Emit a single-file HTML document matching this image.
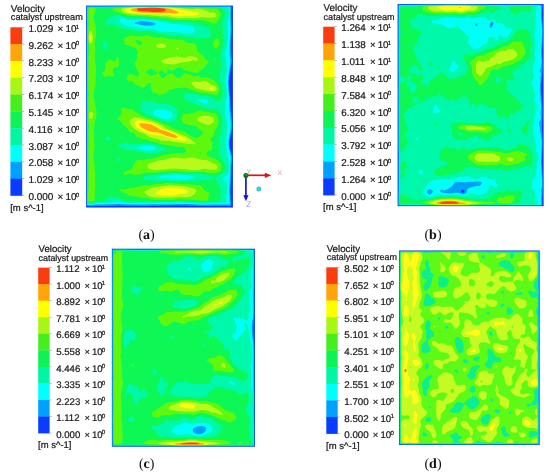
<!DOCTYPE html>
<html><head><meta charset="utf-8"><title>Velocity contours</title>
<style>
html,body{margin:0;padding:0;background:#fff;}
svg{display:block;text-rendering:geometricPrecision}
.t{font-family:"Liberation Sans",Arial,sans-serif;fill:#1a1a1a;stroke:#1a1a1a;stroke-width:0.22px}
.t2{font-family:"Liberation Sans",Arial,sans-serif}
.c{font-family:"Liberation Serif","Times New Roman",serif;font-size:14px;fill:#111}
</style></head><body>
<svg width="550" height="474" viewBox="0 0 550 474">
<defs><filter id="soft" x="-5%" y="-5%" width="110%" height="110%"><feGaussianBlur stdDeviation="0.45"/></filter></defs>
<rect width="550" height="474" fill="#fff"/>
<g transform="translate(86.20,5.70)"><g filter="url(#soft)"><rect x="0" y="0" width="146.70" height="201.70" fill="#0a32fa"/>
<path fill="#00a0fa" fill-rule="evenodd" d="M0.5 0.5 66.1 0.2 145.4 0.5 145.1 4.5 145 10 145.6 24 144.7 35.5 144.6 40.5 144.9 46.5 145.6 53.1 145.7 55.6 145.3 58.6 143.1 70.1 142.6 77.1 142.8 82.1 144 93.6 144.6 104.6 146.1 118.1 145.8 122.6 143.5 134.1 143.1 137.6 143.4 141.6 145.5 149.1 145.9 152.2 145.8 154.7 145.1 162.2 144.9 173.7 144.2 183.7 144.2 187.7 145 199.7 144.8 200.2 123.7 200.2 116.7 200.4 90.1 199.9 58.6 200.4 32.5 200.1 18.5 200.3 11 200.2 4 200.6 0.5 200.4 0.4 196.7 0.5 0.5Z"/>
<path fill="#00fff5" fill-rule="evenodd" d="M48.6 0.5 73.1 0.4 104.6 0.8 143.7 0.9 144.2 1 144 13 144.4 24.5 143.6 36.5 143.4 42.5 143.4 48.5 144.1 53.6 144.2 56.6 142.2 70.6 141.8 77.1 142 81.6 143 92.6 143.3 104.6 144.7 118.6 144.4 123.1 142.5 134.6 142.2 137.6 142.6 141.6 144.4 149.6 144.7 152.7 144.1 162.7 143.2 184.7 143.7 198.7 124.2 198.7 116.2 199 102.1 198.4 91.6 198.2 84.1 198.5 66.1 198.6 58.1 198.9 52.6 198.7 45.1 198.8 38.1 198.5 31.5 198.4 18 198.9 11 198.7 4 199.4 1 199.2 0.7 198.2 0.7 196.7 0.9 177.7 0.9 120.6 0.7 109.6 0.9 1 4.5 0.8 25 0.8 48.6 0.5ZM53.6 15.5 48.5 17 48.4 17.5 49.5 18 57.6 19.7 61.1 20.1 66.1 19.9 67.6 19.5 68.6 19 69.2 18.5 69.3 18 68.9 17.5 67.8 17 61.6 15.8 55.6 15.3 53.6 15.5Z"/>
<path fill="#00f8aa" fill-rule="evenodd" d="M39.3 1 52.6 0.7 68.6 0.6 104.1 1.3 139.2 1.3 141.5 1.5 142.8 5 143.1 6.5 143.1 8.5 142.7 12 141.4 15.5 141.1 17 141.2 20.5 141.7 28.5 141.6 33 140.3 41.5 139.8 43.5 138.7 46 138.4 47.5 138.6 49 139.5 52.1 139.8 54.1 140.4 61.1 141 64.6 140.8 66.1 139.7 70.1 139 74.1 139.1 76.6 140.2 81.8 140.8 86.1 140.9 88.6 140.5 92.1 139.3 95.6 139.2 98.6 138.8 102.6 139.2 109.1 140.6 116.1 140.8 118.1 140.8 126.6 139.6 135.1 139.5 138.1 140.5 144.6 140.9 149.6 142.5 155.7 143.1 160.7 142.5 166.2 142 167.7 140.7 169.2 137.7 171.2 137.2 171.7 136.8 172.7 136.8 173.2 137.4 174.2 139.7 176.2 140.4 177.2 140.7 178.2 141.3 181.2 141.3 182.7 139.9 193.7 139.9 195.2 140.1 196.7 139.7 197.1 124.7 197.2 116.7 197.7 105.6 197 92.6 196.6 84.1 197.1 79.6 196.9 65.1 197 58.1 197.4 52.1 197 44.1 197.2 38.1 196.6 31 196.2 17.5 197.3 11 197 7 198 4 198.3 1.5 198.1 1.2 197.7 1.2 127.6 1.4 120.6 1.1 109.6 1.3 89.6 1.2 68.6 1.4 40.5 1.2 30 1.4 1.5 1.5 1.4 4.5 1.2 18.5 1.3 39.3 1ZM111.2 93.6 110.7 93.6 110.4 94.1 111 94.6 113.2 95.4 116.1 97.1 117.7 97.7 119.2 97.9 120.2 97.8 121.2 97.4 121.7 96.6 121.7 95.6 121.3 94.6 120.7 93.9 119.7 93.4 118.7 93.3 113.7 94 111.2 93.6ZM34.5 12.4 33.6 13 33.2 14 33.3 15 34.3 16.5 36 18 38.3 19.5 40.1 20.3 42.1 20.7 44.6 21.1 49.1 21.3 53.6 22.2 66.1 23.3 68.6 23.8 72.6 25.3 75.6 25.8 78.6 26 83.6 26 87.6 26.5 93.6 26.7 98.6 27.7 104.1 27.8 105.6 27.5 107.7 26.5 108.2 26 108.6 25 108.5 24 108.1 23 106.7 21 105.2 20 103.6 19.6 97.4 19 94.1 18.9 90.1 18.3 84.6 18.3 80.6 16.8 75.6 16.2 70.1 14.9 55.1 13.7 49.6 14.3 43.1 14 41.1 13.7 37.1 12.4 35.5 12.3 34.5 12.4ZM57.6 140.1 52.4 141.1 51.5 141.6 51.7 142.1 52.8 142.6 55.6 143.7 57.6 144.3 62.1 145 65.1 144.9 68.3 144.1 69.2 143.6 69.7 143.1 69.8 142.6 69.7 142.1 68.5 141.1 67.1 140.4 65.6 139.9 61.6 139.7 57.6 140.1ZM72.6 104.1 68.6 104.9 67.6 105.3 67.1 105.7 66.7 107.1 66.9 108.1 67.6 109 68.4 109.6 73.1 111.3 76.6 113 79.1 113.5 81.6 113.5 83.6 113 85.1 112.1 85.9 111.1 86.3 109.6 86.3 108.1 85.6 106.7 84.8 106.1 78.1 104 76.1 103.8 72.6 104.1ZM84.6 169.1 80.6 169.9 76.6 169.9 74.8 170.2 73.8 170.7 73.3 171.2 73.1 171.7 73.5 172.2 75.1 172.7 76.6 172.7 80.1 172.1 85.1 173.3 93.1 173.5 98.6 174 100.6 173.7 106.3 172.2 107.9 171.7 108.1 171.2 104.1 170.1 96.6 169 90.1 168.8 84.6 169.1Z"/>
<path fill="#0af855" fill-rule="evenodd" d="M50.2 1 72.6 0.9 104.1 1.7 111.2 1.6 122.7 1.8 133.2 1.8 135.6 2 137.5 4.5 138.7 6.5 139 8 138.8 9.5 136.5 14.5 135.6 17.5 135.7 19 136.6 22.5 136.5 27 137.3 31.5 137.3 33 136.7 39.5 136.2 42 134.8 46 134.4 49.5 134.3 54.1 135 58.6 135.1 61.6 134.8 63.1 133.5 65.6 133.1 67.1 133.6 71.1 133.5 74.1 133.7 75.6 135.4 80.6 136.7 86.1 136.6 88.6 135.4 92.1 134.3 93.6 133.2 94.6 131.7 95.2 130.2 95.3 129.7 95.2 128.2 93.9 126.7 92.9 121.7 90.4 120.2 90.1 115.7 90.2 111.2 89 107.6 87.8 104.1 87.6 101.6 87.3 100.1 87.5 98.3 88.6 97.3 89.6 97.1 90.6 97.3 91.6 98.1 93 99.1 93.9 100.6 94.8 105 97.1 109.6 98.4 119.2 102.5 121.2 103 123.7 103.2 127.7 103 129.7 102.5 131.7 104.1 133.3 106.1 134.1 107.6 134.9 110.1 135.9 112.6 136.3 115.1 136.1 118.6 135 123.6 134.6 127.6 133.2 132.1 132.9 134.1 132.8 139.6 133.1 143.1 132.6 146.1 132.6 147.6 133 149.6 133.7 151.1 137.2 155.7 138.1 157.2 138.8 159.2 138.9 161.2 138.6 164.2 138.2 165.2 137.6 166.2 136.2 167.4 133.2 169.1 131.7 170.2 130.1 171.7 129.5 172.7 129.5 173.2 130.2 174.7 133.6 180.7 134.2 182.5 134.7 188.7 134.4 189.7 133.3 192.7 133.1 193.7 133.3 195.2 133.2 195.3 132.2 195.6 124.7 195.8 117.2 196.4 106.6 195.7 94.6 195.3 90.6 195.4 84.1 195.8 79.6 195.6 69.1 195.7 63.6 195.4 57.1 195.6 50.1 195.3 44.1 195.4 36.1 194.7 34.2 193.2 32 192.3 26 191.3 24 191.1 21.5 191.5 20.4 192.2 20 193 20.2 193.7 20.6 194.2 21.4 194.7 16.5 195.4 11 195.3 7.5 196.6 4.5 197.1 2.5 197.1 1.5 196.8 1.7 178.7 1.6 127.6 1.8 121.1 1.5 109.6 1.8 89.1 1.6 68.6 1.8 43.5 1.6 30.5 1.8 2 2 1.8 4.5 1.6 11 1.8 25 1.8 50.2 1ZM17.5 36 17 36.5 16.5 37.5 16.3 38.5 16.4 40 16.9 41.5 17.6 42.5 18.5 43.5 19.5 43.8 20.5 43.2 21.1 42 21.2 40 21 38 20.5 36.9 19.5 35.9 18.5 35.6 17.5 36ZM30.5 9.5 24 11.4 22.2 12.5 20.7 14 19.9 15.5 19.7 17 20.1 18.5 20.5 19.2 21.5 19.5 25 18.8 26.5 18.9 28 19.4 33.3 22 38.6 23.3 42.6 23.8 52.1 25.6 59.6 25.5 64.6 25.7 75.6 28.2 88.1 29.6 93.1 29.6 97.6 30.9 101.6 31 105.6 31.8 112.7 32.7 114.7 32.7 122.3 32 123.2 31.7 124.1 31 124.8 29.5 124.9 28.5 124.6 27 122.6 23 121.7 21.8 120.7 21.3 117.2 20.3 113.2 18.7 106.1 17.1 100.6 16.3 93.1 16.2 86.1 15.7 81.1 14.5 75.6 14.1 70.6 13.2 66.6 13.1 55.1 12.1 50.1 12.5 47.6 12.4 42.1 11.7 35 9.7 33 9.5 30.5 9.5ZM21.5 131.5 20 132.3 19.5 132.9 19.4 133.6 19.5 134.1 20 134.8 21 135.2 22 135.2 23.5 134.6 24 134 24.2 133.1 23.8 132.1 23.1 131.6 22.5 131.5 21.5 131.5ZM31.5 152.2 31 153.2 31 153.7 31.5 154.7 32 155.2 33 155.6 34.2 155.2 34.6 154.7 34.6 154.2 34 153.2 32.5 151.9 32 151.9 31.5 152.2ZM39.1 137.1 35 137.7 33.5 138.4 32.7 139.6 32.5 140.6 33 141.6 33.5 142 39.1 144 52.1 145.5 59.1 147.8 67.6 147.9 69.1 147.7 75.6 145.4 78.1 144.6 79.1 144.1 79.2 143.6 79 143.1 78.2 142.6 76.1 141.9 72.6 140.1 69.1 138.9 66.1 138.2 60.6 137.6 55.6 138.3 51.6 138.1 47.6 138.6 44.7 138.1 40.6 137.1 39.1 137.1ZM57.1 94.6 56.5 95.1 56.1 95.9 55.2 98.6 54.2 101.1 54 102.1 54.7 103.6 57 106.6 57.9 107.6 59.1 108.4 67.1 112.1 72.1 113.4 76.1 115.2 80.1 116.4 83.1 116.6 85.6 116.4 89.1 115.1 90.2 114.1 90.9 112.6 91.1 111.1 91.3 108.1 91.1 105.1 90.8 104.1 90.1 102.9 88.8 101.6 87.4 100.6 85.6 99.8 80.6 98.3 72.6 97.7 68.6 96.8 65.6 95.9 64.1 95.8 61.6 96.6 60.6 96.7 60.1 96.5 59.1 95.1 58.6 94.7 57.6 94.5 57.1 94.6ZM89.6 167.2 83.1 167.4 75.1 168 65.6 169.6 61.1 169.5 59.6 169.7 58.4 170.2 57.4 171.2 56.8 172.7 57.1 173.5 58.1 174.2 62.1 174.9 63.6 175 66.6 174.7 70.6 175.4 74.1 175.6 80.1 174.8 89.1 175.7 93.6 175.7 99.1 176.3 103.1 175.5 107.6 175.6 116.7 174.3 121.2 174.4 123.2 174.2 126 173.7 128.6 172.7 128.3 172.2 127.2 171.2 125.3 170.2 115.2 168.3 106.6 168.1 96.1 167.3 89.6 167.2Z"/>
<path fill="#5ff810" fill-rule="evenodd" d="M43.2 1.5 53.6 1.2 73.1 1.2 104.6 2.2 109.1 2 114.7 2 123.2 2.8 129.7 2.8 130.7 3 132.2 4.1 133.2 5.2 134.2 7 134.5 9 133.9 11 132.2 14.2 129.7 17.9 127.7 17.9 126.7 17.7 124.2 16.5 120.2 15.8 116.9 14.5 115.7 14.2 109.1 14.7 101.1 14.2 91.6 14.4 85.6 13.6 81.1 12.5 75.1 12.3 71.1 11.6 66.6 11.5 62.1 10.9 54.1 10.4 47.6 10.4 42.1 9.8 35.8 8 29 5.6 27.3 4.5 25.9 3 29 2.4 43.2 1.5ZM2.5 2.5 4 2.2 6.5 2.1 8.5 2.5 9.7 3 9.6 4.5 7.6 10.5 7.4 12 7.6 13.5 8.8 17 9.3 19.5 9.7 23 9.8 26.5 10.1 29.5 9.2 33 8.6 39.5 9.1 44 8.7 48.5 8.6 51.6 10 65.1 9.4 71.6 9.2 79.6 7.7 87.1 7.5 88.6 8.4 97.1 10.6 106.6 9.6 113.1 8 118.6 8 122.1 7.5 125.6 8.1 130.1 8 133.6 8.5 139.1 8.1 145.1 7.2 148.6 7.2 149.6 8.6 159.7 8.5 163.7 9.2 168.7 8.9 173.7 9.1 180.7 8.4 190.2 8.6 194.7 6.5 195.5 3 195.9 2 195.8 1.9 195.2 2 185.7 2.4 179.2 2.2 171.2 2.3 163.7 2.2 159.2 2.4 149.1 2.2 142.6 2.5 134.6 2.2 127.6 2.9 121.1 2 114 1.9 110.1 2.3 101.6 2.2 95.1 2.5 89.1 2.2 84.1 2 69.1 2.3 59.1 2.2 51.6 2.8 44.5 2.7 40 2 34.5 1.9 31.5 2.5 15.5 2.2 6.5 2.5 2.5ZM58.9 29.5 60.6 29.5 62.1 29.8 63.1 30.1 65.6 31.5 67.1 31.9 75.1 31.8 80.6 32.7 83.6 33.6 86.6 33.6 90.1 34 93.1 33.9 94.6 34 98.1 35 101.1 37 102.1 37.5 103.1 37.6 106.6 37.3 107.6 37.6 108.6 38.1 109.6 39.3 110.4 41 110.8 42.5 110.9 44.5 111.3 45.5 112.3 46.5 116.5 49.5 117.3 50.6 118.7 53.4 119.2 53.9 121.5 55.1 122.1 56.1 122.1 56.6 121.8 57.1 119.7 58.9 118.6 61.6 117.7 62.9 116.7 63.5 114.1 64.6 111.7 66.9 110.7 67.3 109.6 67.3 106.6 66.5 104.1 66.3 101.1 65.1 98.6 64.9 97.6 64.3 95.6 62.3 94.1 61.7 92.6 62 89.6 62.9 88.4 63.6 86.6 65 85.6 65.3 84.6 64.9 83.1 63.9 82.1 63.7 81.6 64 81.1 64.6 80.2 67.6 80.1 67.8 79.6 68 79.1 67.8 76.6 65.2 75.1 64.8 74.2 65.1 73.6 65.6 72.2 67.1 72.3 67.6 73.1 68.5 74.6 71.4 75.1 72 76.1 72.6 76.6 72.6 77.6 72.2 80.1 69.6 80.6 69.3 82.1 69.1 84.6 67.7 85.6 67.5 86.1 67.7 87.1 68.5 90.1 71.7 91.1 72 93.1 71.7 94.6 71.2 95.6 70.3 97.1 68.5 98.1 67.8 98.6 67.7 101.6 68.3 103.6 68.2 104.1 68.5 105.7 70.1 107.1 70.8 108.6 70.7 110.7 70 111.7 69.9 115.2 71.8 116.7 71.8 119.7 71.4 121.2 71.6 124.2 73.3 126.7 74.2 127.7 74.7 129.7 76.5 131.4 79.1 132.6 81.6 132.9 83.6 132.5 86.1 131.5 88.1 130.7 88.9 129.7 89.4 127.7 88.7 125.2 88.1 117.2 87.3 112.2 86.2 105.6 84.3 104.1 83.8 100.6 82 98.1 81.7 96.1 81.9 92.6 82.6 89.6 82.4 87.6 83.3 83.6 84.3 82.6 84.9 79.6 87.5 78.1 88.4 76.1 88.8 73.1 89.1 71.7 88.6 69.6 87.4 67.1 86.8 66.1 86 65.2 84.1 64.7 82.1 64.7 80.6 65.1 78.6 65 78.1 64.6 77.8 63.6 77.5 62.6 77.6 61.6 78.2 60.1 80.1 58.7 81.1 57.1 81.7 55.6 81.8 54.6 81.3 52.6 79.8 50.1 79.4 49.3 79.1 47.1 76.6 46.1 75.9 45.1 75.6 42.6 75.7 41.6 75.3 40.6 74.1 40.4 73.1 40.4 72.1 40.7 71.1 41.2 70.1 42.6 68.9 44.1 68.4 45.6 68.5 46.6 68.9 49.1 70.5 50.1 70.8 51.6 70.5 52.2 70.1 52.6 69.5 52.8 68.6 52.5 67.1 50.5 63.1 49.7 60.6 48.9 59.1 48.7 58.1 49.1 56.3 50.6 54.1 51 53.1 51 52.1 50.5 50.6 50.4 49.5 51.5 47.5 51.8 46 51.5 45 50.8 44 48.6 41.8 46 41.5 45.1 41.1 43.1 39.8 40.1 39.4 39.1 39 38.6 38.4 38.2 37 38.1 34 38.3 32.5 39.1 31.8 41.1 31.4 43.6 30.2 44.6 29.8 46.1 29.8 50.1 30.6 54.6 30.9 56.1 30.6 58.9 29.5ZM63.6 63.5 62.4 64.1 61 65.1 60.3 66.1 60.5 67.1 61.1 68.1 63.6 69.5 65.1 70 66.6 69.9 70.2 68.1 71.1 67.6 71.4 67.1 66.1 63.7 64.6 63.4 63.6 63.5ZM50.1 34.5 49.4 35 49.2 35.5 49.6 36.5 50.1 37.1 53.6 39.4 54.6 39.6 55.1 39.1 55.9 37 55.6 36 55.2 35.5 54.1 35 51.9 34.5 50.1 34.5ZM129.4 33.5 129.7 33.2 130.7 33.2 131.7 33.5 132.2 33.8 132.9 35 133.2 36.5 133.1 38 132.7 39.7 132.2 40.7 130.5 42.5 129.7 44 127.4 39.5 126.9 38 127 37 127.5 36 129.4 33.5ZM25 50 25 50.2 25 50ZM31.3 51.6 31.5 51.3 32 51.3 32.6 52.1 32.7 53.1 32.4 55.6 32.9 58.1 33 59.1 32.5 60.1 31.5 61.1 30.5 61.5 29 61.7 28 62.1 27 63.4 26.7 64.6 26.6 65.6 26.9 66.6 27.9 69.1 27.5 70.5 27 71 26 71.1 23.5 70.2 22 70.1 21 70.5 19.5 71.6 18.5 71.3 17.5 70.3 16.5 68.9 16.1 68.1 16.1 67.1 16.6 66.1 18.9 64.6 19.5 63.6 19.5 62.6 18.9 59.1 19.1 58.1 19.6 57.1 22.5 54.5 24 53.7 24.5 53.9 25.7 55.1 26.5 55.6 27.5 55.8 28.5 55.5 29.7 54.6 31.3 51.6ZM128.6 52.6 128.8 52.6 129.2 52.9 129.2 54.1 128.7 54.7 128.2 54.6 127.9 54.1 127.9 53.6 128.2 52.9 128.6 52.6ZM35.4 102.1 36 101.7 36.5 101.7 42.6 103.5 45.6 103.5 46.6 103.7 47.2 104.1 48.6 105.8 49.6 106.6 52.1 107.7 55.7 110.1 59.6 111.8 63.6 112.8 71.6 115.5 79.6 119 83.1 120.4 86.6 122.6 90.4 124.1 92.1 124.7 95.1 124.8 95.8 125.1 98.1 125.5 99.1 126 101.1 128.1 102.4 129.1 108.1 131.8 109.6 132.2 110.7 132.2 111.7 131.8 114.7 129.9 115.8 128.6 116.5 127.6 116.7 126.6 116.6 126.1 115.7 125.2 113.7 124.3 112.7 123.6 110.4 121.1 109.1 120.4 101.6 119.1 98.6 118.1 97.1 117.1 96 115.6 95.4 113.6 95.6 111.6 96.6 109.7 97.6 108.7 98.6 108.1 99.6 108 101.6 108.4 102.6 108.3 106.6 107 109.6 106.5 112.5 105.1 113.7 104.8 114.7 104.9 118.2 106.1 124.7 106.9 129.7 108 130.7 109.3 131.3 111.1 132.3 115.1 132.2 117.6 131.7 119.1 130 122.6 129.7 123.9 128.5 125.1 128.3 125.6 128.2 127.6 127.5 129.6 126.2 131.4 124.2 132.5 123.9 133.1 124.3 134.1 125.7 135.9 126.2 137.1 125.9 140.1 126.1 142.6 125.8 143.6 125.2 144.3 122.7 145.4 121.4 146.1 120.5 147.1 120.3 148.1 120.4 148.6 121.1 149.6 122.5 150.6 127.7 152.9 129.7 153.4 133.2 156.2 134.2 157.7 134.9 160.2 135 163.2 134.5 164.7 133.7 165.6 132.9 166.2 129.7 167.6 127.7 167.4 123.2 167.3 115.7 166.4 106.6 166.4 102.6 166 89.6 165.4 82.1 165.6 69.1 167 59.6 166.8 57.6 167.2 54.1 168.7 52.6 169.1 48.1 169.1 43.1 167.9 41.6 168.3 39.6 169.4 38.6 169.4 38.1 169.2 37.5 168.2 37.6 167.4 37.9 166.7 40.6 165.1 41.6 164.7 44.1 164.2 45.1 163.6 45.9 162.7 46.8 161.2 47.6 158.1 50.6 154.9 51.6 154.3 53.1 154.2 57.1 154.5 60.6 153.4 65.6 153.2 73.6 150.8 77.1 149.4 81.1 149.1 85.1 147.7 90.6 147.2 97.6 147.8 98.6 147.4 99.1 146.9 99.6 146.1 99.7 145.1 99.5 144.1 98.2 142.1 97.6 141.6 96.6 141.1 95.1 141 92.1 141.3 90.6 141.3 86.1 140.1 77.6 139.1 73.6 138 69.6 136.5 65.3 135.6 60.6 133.9 56.1 133.3 53.6 131.8 50.6 131.4 50.1 131.1 48.9 128.6 48.1 127.6 46.6 126.8 44.1 126.1 43.1 125.5 42.1 124.4 40.2 121.6 37.6 120 36.6 119.1 34.5 115.5 34 115.1 32 114.4 31.3 113.6 31.2 112.6 31.5 112.1 34 110 35.1 108.6 35.3 107.6 35 103.6 35.4 102.1ZM114.7 146.6 113 147.1 112.6 147.6 112.7 148.1 113.7 148.4 114.7 148.2 115.2 147.8 115.5 147.1 115.2 146.7 114.7 146.6ZM95.1 124.1 95.1 124 95.3 124.1 95.1 124.1ZM78 177.7 80.1 177.3 83.6 177.3 88.6 177.9 93.6 178 99.6 178.6 103.6 178.6 111.7 179.5 114.2 179.6 115.2 180.3 117.7 183.9 118.7 185 119.7 185.6 122.2 186.4 123 187.2 123.1 188.2 122.9 189.2 121.5 194.7 116.2 195 113 194.7 111.7 194.3 107.1 194 101.6 194.1 93.1 193.4 89.5 193.7 84.6 194.6 80.1 194 76.1 194.4 69.1 194.4 60.1 192.4 55.6 192 50.1 190.9 46.6 190.6 44.6 190 42.6 189.2 39.6 187.5 37.1 186.8 35 185.4 33.3 184.7 32.9 184.2 33.1 183.7 33.5 183.4 34.5 183.4 36 184 37.1 184 43.1 182.6 46.1 182.3 48.6 181.4 52.1 181 58.1 179.6 59.1 179.5 61.6 179.9 62.6 179.8 68.1 178.5 76.1 178 78 177.7Z"/>
<path fill="#b9fa1e" fill-rule="evenodd" d="M50.9 1.5 66.6 1.3 79.6 1.6 93.1 2.2 101.3 3 105.1 3.7 106.6 3.5 108.6 3 112.3 3 119.2 4.7 121.2 5.5 123.7 6.8 124.7 7 127.2 6.8 129.7 7.5 130.1 8.5 130.2 9.5 129.7 11.2 128.2 11.7 126.7 12 121.7 11.9 116.2 11.6 108.1 12.4 100.1 12.1 92.6 12.6 86.6 11.9 82.6 10.8 81.1 10.6 75.1 10.5 70.6 10 66.6 9.8 62.6 9.3 58.1 9.3 44.1 8.5 40.6 7.9 38 7 36.5 6.3 35.6 5.5 35 4.5 34.9 4 35.2 3 36.8 2.5 39.6 2 50.9 1.5ZM4 25 4.5 25 5 25.3 5.5 26.1 6.2 28 6.6 30 6.5 34 6.2 35.5 5.5 36.9 4.5 37.5 4 37.4 3.5 36.9 3 36 2.5 32.5 2.5 29.5 3 26.5 3.5 25.5 4 25ZM73.6 38 76.1 38.1 78.6 38.9 79.5 39.5 79.9 40 79.9 40.5 79.7 41 78.6 41.8 76.6 42.2 72.6 42 70.9 41.5 70.2 41 70 40.5 70 40 70.2 39.5 71.6 38.5 73.6 38ZM91.6 42 92.1 42.3 92.3 43 92.1 43.6 91.6 43.9 90.6 43.4 90.3 43 90.2 42.5 91.6 42ZM103.1 50.6 104.6 50.5 106.6 51.1 109.1 51.2 110.2 51.6 111.2 52.4 111.6 53.6 111.5 54.1 111.2 54.9 110.2 55.4 109.6 55.4 107.6 54.5 107.1 54.4 103.6 55.8 94.6 56.8 89.6 58.3 87.1 58.7 79.1 58 76.9 57.1 75.4 56.1 74.9 55.6 75.1 55.1 75.6 54.8 80.6 52.7 84.6 51.8 91.6 50.9 95.6 51.8 98.6 52 100.1 51.7 103.1 50.6ZM116.8 75.6 118.2 75.4 119.7 75.6 120.7 76.1 123.7 78.3 127.7 79.8 129.2 80.5 129.7 81.1 130.3 82.6 130.2 84.1 129.7 85.1 128.7 85.6 127.2 85.8 122.8 85.6 114.2 83.8 109.6 82.2 108.6 81.6 105.3 78.1 105.1 77.6 105.4 77.1 106.1 76.6 108.1 76 113.2 76.2 116.8 75.6ZM3.6 106.6 4.5 106.3 6 106.7 6.5 107.3 6.8 108.1 6.9 109.6 6.5 111.5 6 112.4 5 113.1 4 113.1 3.5 112.8 3 112.1 2.9 109.6 3 107.3 3.6 106.6ZM116.3 110.1 118.2 110 122.2 110.3 124.2 110.8 126.2 111.6 127.2 112.6 127.6 113.6 127.7 115.1 127.2 116.6 126.2 117.6 124.7 118.6 123.2 119.1 122.2 119.2 120.2 118.9 114.1 116.6 112.6 115.6 111.6 114.6 111.3 114.1 111.3 113.1 112.1 112.1 113.2 111.4 114.7 110.6 116.3 110.1ZM47.7 112.1 49.1 111.8 50.1 111.7 55.1 112.6 59.6 114 63.6 114.7 69.3 116.6 75.6 119.6 78 121.1 80.6 123.1 89.1 126.4 95.1 129.1 100.1 130.9 104.8 134.1 107.6 136.6 109.5 137.6 110 138.1 109.6 138.5 109.1 138.5 103.6 138.4 97.1 137.6 93.1 136.7 87.6 136.4 83.1 135 80.1 135.3 75.1 134.8 73.6 134.3 70.6 133 66.6 132.2 63.6 131.2 59.3 128.6 54.1 126.5 49.1 123.8 47.5 122.6 46 121.1 44.6 119.1 43.8 117.6 43.5 116.6 43.6 115.6 43.9 114.6 44.8 113.6 46.1 112.8 47.7 112.1ZM85.1 152.2 86.6 152 90.6 152 94.6 152.5 98.1 152.7 102.6 152 106.1 151.8 107.6 152 110.2 152.9 116.2 154.3 119.2 154.3 120.7 154.6 123.2 155.6 126.7 157.9 128.2 158.4 129.7 158.4 130.3 159.2 130.7 160.2 130.9 161.7 130.8 162.7 130.2 163.7 129.7 164.1 127.7 163.8 124.7 164.1 117.7 163.1 112.7 164.2 107.6 164.5 105.1 164.3 101.1 163.6 94.1 163.4 90.1 162.8 83.1 163 78.6 163.7 74.6 163.9 70.6 164.5 69.1 164.4 64.6 163.5 63.4 163.2 62.6 162.7 61.5 160.7 61.4 159.7 61.5 159.2 62.2 158.2 63 157.7 66.6 156.9 71.6 155 79.1 154 85.1 152.2ZM81 179.7 84.6 179.5 89.1 180 95.6 180.4 105.1 182 107.6 182.6 108.8 183.2 109.8 184.2 110 185.2 108.6 188.2 107.6 189.4 103.6 191 101.6 191.4 98.6 191.6 93.6 191.1 85.6 192 81.1 191.8 76.1 192 69.6 191.8 65.1 191.1 62.6 190.4 60.7 189.2 58.3 186.7 58.1 186.2 58.4 185.7 62.1 183.7 65.6 182.3 72.6 180.8 77.1 180.4 81 179.7Z"/>
<path fill="#fffa0f" fill-rule="evenodd" d="M45.7 2 53.6 1.7 66.1 1.6 83 2 91.4 3 95.1 4 99.6 4.8 104.1 6 110.3 6.5 111.9 7 112.7 7.5 113 8 112.7 8.5 111.7 9 108.6 9.7 105.1 10 100.1 9.8 95.1 10.4 92.1 10.6 87.6 10.1 82.1 8.9 73.6 8.9 66.6 8.5 62.6 8.1 57.6 8.1 47.6 7.4 44.1 7 41.6 6.4 39.8 5.5 39.1 4.5 39.1 4 39.8 3 41.7 2.5 45.7 2ZM3.8 29.5 4 29.3 4.5 29.5 4.9 30.5 5 31.5 4.8 33.5 4.5 34 4 34.2 3.5 33.4 3.3 32 3.3 30.5 3.8 29.5ZM124.5 81.6 125.7 81.6 126.7 82 127.2 82.6 127.2 83.1 126.7 83.6 126.2 83.7 125.2 83.8 124.2 83.6 123.4 83.1 123.1 82.6 123.3 82.1 124.5 81.6ZM50.5 115.1 52.6 114.6 55.1 114.8 59.1 115.8 64.1 116.7 67.1 117.5 73.2 120.6 74.5 121.6 76 123.1 81.6 125 88.1 127.4 98.6 132.6 99.7 133.6 99.9 134.1 99.8 134.6 99 135.1 97.6 135.3 93.1 134.5 88.6 134.1 81.1 131.9 76.1 130.1 75.1 129.8 72.6 129.9 67.6 129.4 65.6 129 64.1 128.6 55.6 124.7 51.9 122.6 50.6 121.6 49.3 119.6 48.7 117.6 48.9 116.6 49.2 116.1 50.5 115.1ZM85.2 181.7 88.1 181.9 92.6 182.9 95.6 182.9 97.6 183.2 99.6 184 100.8 184.7 101.2 185.2 101.3 186.2 100.6 187.2 100 187.7 98.6 188.2 97.1 188.3 94.1 188.1 90.6 189.3 88.1 189.7 85.6 189.8 81.6 189.6 77.1 189.8 75.1 189.6 72.6 189.1 71.4 188.7 70.5 188.2 70.1 187.7 70 187.2 70.1 186.7 70.8 185.7 72.1 184.7 74.4 183.7 79.6 182.3 85.2 181.7Z"/>
<path fill="#ffa50a" fill-rule="evenodd" d="M51.3 2 68.6 1.8 77.2 2 79.1 2.2 84.1 3 90.7 5.5 92.1 6.5 92.2 7 91.7 7.5 91.1 7.7 89.1 7.9 87.1 7.8 83.6 7.2 72.6 7.6 66.6 7.4 62.1 7 57.1 7 52.1 6.6 46.6 5.6 45.2 5 44.7 4.5 44.6 4 45.4 3 51.3 2ZM54.3 117.6 56.1 117.6 61.3 118.1 64.1 118.6 65.6 119.1 70.6 121.6 72.3 123.1 73.1 123.6 79.8 125.6 87.7 128.6 90.1 130.1 91.1 131.1 91.2 131.6 90.7 132.1 90.1 132.3 87.6 132.1 80.6 130.2 74.9 128.1 71.6 126.5 69.1 126.5 66.6 126.3 64.1 125.8 61.6 125.1 57.6 123.1 55.3 121.6 54.1 120.6 53.4 119.6 53.2 118.6 53.6 118 54.3 117.6Z"/>
<path fill="#fa3c0f" fill-rule="evenodd" d="M52.8 2.5 63.6 2.1 68.6 2.1 73.6 2.4 78.6 3 79.4 4 79.5 4.5 79.2 5 78.1 5.5 75.9 6 72.6 6.3 67.1 6.3 61.6 5.8 54.6 5.5 52.1 5 51.2 4.5 50.8 4 50.8 3 52.8 2.5Z"/></g><rect x="0.45" y="0.45" width="145.80" height="200.80" fill="none" stroke="#1446f5" stroke-width="0.9" opacity="0.55"/></g>
<rect x="10.40" y="27.30" width="11.80" height="17.12" fill="#fa3c0f"/>
<rect x="10.40" y="44.12" width="11.80" height="17.12" fill="#ffa50a"/>
<rect x="10.40" y="60.94" width="11.80" height="17.12" fill="#ffff00"/>
<rect x="10.40" y="77.76" width="11.80" height="17.12" fill="#a8f616"/>
<rect x="10.40" y="94.58" width="11.80" height="17.12" fill="#46ee1e"/>
<rect x="10.40" y="111.40" width="11.80" height="17.12" fill="#0ff255"/>
<rect x="10.40" y="128.22" width="11.80" height="17.12" fill="#00f5a5"/>
<rect x="10.40" y="145.04" width="11.80" height="17.12" fill="#00ffff"/>
<rect x="10.40" y="161.86" width="11.80" height="17.12" fill="#00a0ff"/>
<rect x="10.40" y="178.68" width="11.80" height="17.12" fill="#0a3cff"/>
<rect x="22.20" y="26.90" width="2" height="0.7" fill="#999"/>
<rect x="22.20" y="43.72" width="2" height="0.7" fill="#999"/>
<rect x="22.20" y="60.54" width="2" height="0.7" fill="#999"/>
<rect x="22.20" y="77.36" width="2" height="0.7" fill="#999"/>
<rect x="22.20" y="94.18" width="2" height="0.7" fill="#999"/>
<rect x="22.20" y="111.00" width="2" height="0.7" fill="#999"/>
<rect x="22.20" y="127.82" width="2" height="0.7" fill="#999"/>
<rect x="22.20" y="144.64" width="2" height="0.7" fill="#999"/>
<rect x="22.20" y="161.46" width="2" height="0.7" fill="#999"/>
<rect x="22.20" y="178.28" width="2" height="0.7" fill="#999"/>
<rect x="22.20" y="195.10" width="2" height="0.7" fill="#999"/>
<text class="t" x="10.80" y="11.70" font-size="9.95">Velocity</text>
<text class="t" x="10.80" y="20.30" font-size="9.20">catalyst upstream</text>
<text class="t" x="28.40" y="31.90" font-size="10.00">1.029<tspan x="57.60" font-size="9.70">×</tspan><tspan x="65.40" font-size="9.90">10</tspan><tspan x="75.70" dy="-3.3" font-size="6">1</tspan></text>
<text class="t" x="28.40" y="48.72" font-size="10.00">9.262<tspan x="57.60" font-size="9.70">×</tspan><tspan x="65.40" font-size="9.90">10</tspan><tspan x="75.70" dy="-3.3" font-size="6">0</tspan></text>
<text class="t" x="28.40" y="65.54" font-size="10.00">8.233<tspan x="57.60" font-size="9.70">×</tspan><tspan x="65.40" font-size="9.90">10</tspan><tspan x="75.70" dy="-3.3" font-size="6">0</tspan></text>
<text class="t" x="28.40" y="82.36" font-size="10.00">7.203<tspan x="57.60" font-size="9.70">×</tspan><tspan x="65.40" font-size="9.90">10</tspan><tspan x="75.70" dy="-3.3" font-size="6">0</tspan></text>
<text class="t" x="28.40" y="99.18" font-size="10.00">6.174<tspan x="57.60" font-size="9.70">×</tspan><tspan x="65.40" font-size="9.90">10</tspan><tspan x="75.70" dy="-3.3" font-size="6">0</tspan></text>
<text class="t" x="28.40" y="116.00" font-size="10.00">5.145<tspan x="57.60" font-size="9.70">×</tspan><tspan x="65.40" font-size="9.90">10</tspan><tspan x="75.70" dy="-3.3" font-size="6">0</tspan></text>
<text class="t" x="28.40" y="132.82" font-size="10.00">4.116<tspan x="57.60" font-size="9.70">×</tspan><tspan x="65.40" font-size="9.90">10</tspan><tspan x="75.70" dy="-3.3" font-size="6">0</tspan></text>
<text class="t" x="28.40" y="149.64" font-size="10.00">3.087<tspan x="57.60" font-size="9.70">×</tspan><tspan x="65.40" font-size="9.90">10</tspan><tspan x="75.70" dy="-3.3" font-size="6">0</tspan></text>
<text class="t" x="28.40" y="166.46" font-size="10.00">2.058<tspan x="57.60" font-size="9.70">×</tspan><tspan x="65.40" font-size="9.90">10</tspan><tspan x="75.70" dy="-3.3" font-size="6">0</tspan></text>
<text class="t" x="28.40" y="183.28" font-size="10.00">1.029<tspan x="57.60" font-size="9.70">×</tspan><tspan x="65.40" font-size="9.90">10</tspan><tspan x="75.70" dy="-3.3" font-size="6">0</tspan></text>
<text class="t" x="28.40" y="200.10" font-size="10.00">0.000<tspan x="57.60" font-size="9.70">×</tspan><tspan x="65.40" font-size="9.90">10</tspan><tspan x="75.70" dy="-3.3" font-size="6">0</tspan></text>
<text class="t" x="10.20" y="210.70" font-size="9.5">[m s^-1]</text>
<text class="c" x="146.60" y="239.00" text-anchor="middle">(<tspan font-weight="bold">a</tspan>)</text>
<g transform="translate(397.70,4.00)"><g filter="url(#soft)"><rect x="0" y="0" width="145.80" height="202.10" fill="#0a32fa"/>
<path fill="#00a0fa" fill-rule="evenodd" d="M0.5 0.5 56.4 0.2 95.9 0.5 133.3 0.4 144.3 0.6 144.7 1 144.3 6.5 144.3 11 144.5 15 145.2 22 145.5 28.5 144.3 47 144.4 51.5 144.9 58 145 64.5 144.7 69 143.4 79.5 143.2 84.5 143.4 90 144.8 105.1 144.2 123.1 144.9 137.6 144.8 142.6 144.1 152.6 144 158.1 144.2 162.1 145.3 175.1 145.6 179.6 144.4 194.6 144.4 201.1 144.3 201.5 136.3 201.7 59.4 201.9 0.4 201.6 0.6 153.1 0.4 138.6 0.5 0.5ZM64.4 186 63.7 187.1 63.6 187.6 63.8 188.1 64.9 188.7 65.9 188.7 66.4 188.4 66.8 187.6 66.4 186.4 65.4 185.8 64.4 186ZM93.9 19.2 93.4 19.9 93.2 20.5 93.4 21.1 93.9 21.2 94.4 20.7 94.6 20 94.4 19.1 93.9 19.2Z"/>
<path fill="#00fff5" fill-rule="evenodd" d="M50.2 0.5 68.9 0.5 95.9 1 133.3 0.9 140.3 1.1 143.5 1.5 143.2 10.5 143.4 15.5 144.1 20 144.4 28.5 144.1 38 143.6 42.5 143.3 47.5 143.4 52 143.8 54.6 144 57.5 143.8 60 143.4 61.5 143 64 141.9 67 142 67.5 142.9 68.5 143.3 69.5 143.3 70.3 142.7 73 142.8 77.5 142.4 79.5 142.3 81 142.4 89.5 142.8 92.3 142.8 96.5 143.2 99 143.4 103.6 142.8 108.6 143.3 113.7 142.8 116.1 141.5 118.1 141.3 119.1 141.3 120.1 142.4 124.1 142.3 127.6 143.1 130.1 143.2 132.6 143.8 134.2 144 136.6 143.9 143.6 143.3 158.6 144.5 180.1 144.3 182.3 143.2 186.1 143.3 187.1 143.8 188.6 143.5 194.6 143.6 200.6 143.3 200.9 136.3 201.2 123.8 201 59.4 201.7 37.9 201.6 19 201 1 201.3 0.8 201.1 1.2 176.6 1.1 160.1 1.3 153.1 0.9 138.6 1.1 107.1 0.8 93 1.2 74 0.9 60.5 1 1.5 1.5 1 16 1.1 32.5 0.6 50.2 0.5ZM77.9 19.8 77.5 20.5 77.7 21.5 78.4 22.1 79.4 22.1 79.9 21.5 79.8 20.5 78.9 19.6 78.4 19.6 77.9 19.8ZM94.4 17.5 93.9 17.7 93 18.5 92 20.5 91.9 22.6 92.4 23.5 92.9 23.7 93.9 23.3 94.4 22.8 95.2 21.5 95.7 20 95.8 19 95.5 18 94.9 17.5 94.4 17.5ZM31 185.5 30.3 186.1 29.5 187.1 29.3 188.6 29.9 189.6 30.5 190.1 31.5 190.5 32.5 190.5 33.8 189.6 35.1 188.1 35.3 187.6 35.1 187.1 34.6 186.6 33 185.6 32 185.3 31 185.5ZM77.9 177.6 74.9 178 70.9 177.7 67.4 178.2 63.9 178.3 62.4 178.2 59.9 177.8 58.4 177.9 57.1 178.6 54.9 181.6 52 184.1 47.9 186.1 46.9 186.4 45.9 186.3 44.4 185.6 43.9 185.6 43 186.1 42.5 186.6 42.2 187.1 42.3 187.6 43 188.1 43.9 188.4 49.9 189.3 53.4 189.4 57.4 188.7 60.4 188.7 61.4 188.9 64.4 190.1 65.4 190.3 66.4 190.2 67.7 189.6 68.7 188.6 69.1 187.6 69.4 185.6 69.9 184.9 70.9 184.2 71.9 183.7 74.9 183.1 77.9 182.1 81.9 181.7 83.4 180.6 84.2 179.1 84.1 178.6 83.4 177.9 81.4 177.4 77.9 177.6Z"/>
<path fill="#00f8aa" fill-rule="evenodd" d="M32.2 1 67.4 0.8 84.4 1.1 95.9 1.6 108.9 1.7 116.8 1.3 128.8 1.5 133.3 1.4 137.3 1.6 139 2 138.7 7 137.5 16 137.7 17 138.6 20 138.4 24.5 138.2 25.5 137.3 28 136.5 32 136.7 33 137.8 35.5 138.3 40 138.2 41.5 137.5 44.5 136.7 50 136.9 51.5 137.7 54 137.8 55 135.6 60.5 134.8 66.5 135 68 136.1 71 136.2 72 135.2 74.5 134.8 76.5 133.8 78.1 133.5 79 133.9 80 135.2 82 135.7 84.5 136.6 87 137.3 90 137.2 91.5 136.1 94.5 136.1 96 136.7 97.5 138.7 100.5 139.2 102.1 139.1 103.6 138.3 107.1 137.9 110.6 137.5 111.6 136.3 112.9 136 113.6 136.4 117.6 135.8 122.1 135.4 127.1 135.7 131.1 136.4 133.6 136.8 136.4 138.5 140.6 138.7 141.6 138.6 142.6 138 144.6 138 145.6 138.4 146.6 140 149.1 140.8 153.6 140.7 154.6 139.6 157.6 139 160.1 139 161.6 139.4 164.1 138.3 166.6 138.5 169.1 138.4 170.6 137.4 173.1 135.3 174.8 134.8 175.6 134.5 176.6 134.6 179.6 134 183.1 134.3 184.7 135.8 186 136.2 186.6 137 189.1 137.9 191.1 138.3 192.6 138.9 197.1 140.1 200.1 139.8 200.2 138.3 200.6 136.3 200.6 129.8 200.4 124.3 200.4 107.4 200.9 98.4 200.8 59.4 201.5 37.4 201.3 19 200.5 12 200.5 1.5 200.8 1.3 200.6 1.7 185.6 1.7 158.6 2 153.1 1.7 148.6 1.3 138.6 1.6 107.6 1.3 92.5 1.8 74.5 1.5 69 1.4 60.5 1.6 51 1.4 39 1.7 28 1.5 21.5 1.6 2 2 1.6 16.5 1.6 32.2 1ZM86.4 12.9 84.4 13.4 80.9 13.3 75.9 14.4 74.4 14.6 73.4 14.4 70.9 13.4 69.9 13.5 66.4 14.1 61.4 14.5 58.4 13.7 52.9 13.6 48.4 13.2 44.9 14 42.4 14.2 39.9 15.7 38.9 16 37.9 16.2 36 16 35 16.2 34 16.9 33.4 18 33.6 18.5 34.5 18.9 37.4 18.7 39.9 20.2 40.9 20.5 43.9 20.5 44.9 20.8 46.4 21.7 48.9 24.1 49.9 24.5 53.4 23.6 56.4 23.8 58.9 22.1 59.4 22.1 60.4 22.3 61.2 23 62.6 25 65.2 27.5 67.9 29.5 71.2 33.5 71.4 35 70.2 38 70.2 39 70.5 39.5 72.6 41.5 74.9 44.4 76.4 45.1 78.4 45.1 79.9 44.9 81.4 44.3 82.6 43.5 84.3 41.5 84.9 41.1 87.4 40.4 88.9 39.5 89.4 39 89.9 38 89.8 36 90.1 35 90.8 34 91.4 33.6 92.9 33.2 93.9 33.4 94.9 33.8 96.4 33.5 96.9 33.7 97.1 34 97 36 97.3 36.5 98.4 36.8 99.4 36.6 100.1 36 100.4 35.5 101.1 32.5 101.4 31.9 101.9 31.6 102.4 31.5 103.4 31.8 104.9 33 106.4 33.7 107.9 33.7 108.9 33.3 109.8 32.4 112.5 29 113.3 27.7 113.8 26.5 113.9 25.5 113.7 25 112.8 24.3 111.3 24.1 109.4 24.5 108.4 24.2 106.7 21.5 103.4 19 101.9 18.7 98.9 18.9 98.3 18.5 96.9 16 95.9 15.4 95.4 15.4 94.4 15.6 92.4 16.7 91.4 16.7 90.4 16 87.9 13.3 87.4 13 86.4 12.9ZM18 134 17.2 134.6 17.2 135.1 17.6 135.6 19.5 136.2 20.6 136.1 20.8 135.6 20.7 135.1 20 134 19 133.7 18 134ZM22 166.1 21.5 166.4 21 167.1 20.9 167.6 20.9 168.6 21.5 169.6 22.5 170.4 23.5 170.9 24 170.9 24.5 170.6 25.1 169.6 25.4 168.6 25.3 167.6 25 167 24 166.2 23 165.9 22 166.1ZM37.9 100.8 36.9 101.5 36.5 102.1 36 103.6 36.1 106.6 35.4 108.6 35.6 109.1 36 109.5 36.5 109.7 38.4 108.9 41.4 108.7 42.4 108.1 42.6 107.6 42.3 106.6 40.6 104.6 40.1 102.6 39.6 101.6 38.9 100.9 37.9 100.8ZM54.9 57.4 54.4 57.7 53.9 58.4 53.8 59 53.9 60.5 53.6 61.5 51.9 63.5 51.6 64 51.6 65 51.9 66 52.9 67.1 54.4 67.6 55.9 67.7 56.9 67.4 57.9 66.7 59.1 65 60.5 63.5 61 62.5 60.9 62 60.5 61.5 58.4 60 56.9 57.4 55.9 57.1 54.9 57.4ZM67.9 172.6 66.4 172.8 62.4 172.7 59.9 173 58.4 173.4 54.9 174.9 53.4 175.2 49.9 175.5 45.9 175.1 43.4 175.2 37.4 175.9 32.5 177.2 31.7 177.6 31.1 178.1 30.2 180.1 28.2 182.6 25.3 187.6 25 189.1 25.8 190.1 29 192.3 30.5 193 32 193.2 34 192.9 38.4 191 40.9 190.5 46.4 191.1 57.4 190.6 61.9 191.1 64.4 191.8 65.9 192 67.4 191.7 70.9 190.8 73.9 189.5 74.9 189.6 77.9 190.2 80.4 191.2 82.4 191.1 83.9 190.8 88.4 188.5 90.1 187.1 91.5 185.1 91.3 182.6 91.9 181.9 92.9 181.5 93.9 181.4 94.5 181.6 95.9 182.8 96.9 183.4 97.9 183.6 98.9 183.2 99.9 181.7 100.3 180.6 100 180.1 98.9 179.4 98.2 178.6 97.8 176.1 97.4 175.6 96.9 175.4 93.9 175.7 89.9 173.8 87.9 173.2 86.4 173.1 85.5 172.6 84.9 172.5 83.9 172.6 81.7 174.1 80.9 174.5 78.9 174.8 73.9 174.4 72.9 174 71.4 172.7 70.4 172.3 69.4 172.3 67.9 172.6ZM78.9 111.4 78.6 111.6 78.5 112.1 78.9 112.3 79.5 112.1 79.5 111.6 78.9 111.4Z"/>
<path fill="#0af855" fill-rule="evenodd" d="M28.8 1.5 45.9 1.1 68.4 1.1 85.9 1.6 95.4 2.4 101.4 2.4 104.4 3 103.9 3.5 103.8 5 103.4 5.5 102.4 5.6 100.9 5.4 99.9 5.6 98.9 6.2 96.7 8 94.9 8.7 93.4 8.6 90.9 7.6 89.9 7.6 76.4 11.1 74.9 11.2 70.9 10.7 66.9 11.7 64.4 12 62.4 11.9 57.9 11.1 50.4 11.3 46.9 11.1 41.4 11.4 38.4 12.2 37.4 12.1 35 11.4 34 11.4 33 11.6 31 12.5 30.5 12.4 29 11.4 28 11.1 24.5 11.3 22.5 10.1 21.5 9.9 20.5 10.2 19.4 11 18.5 13.1 17.5 14.2 16.5 14.5 13.5 14.7 12.5 15.2 12 15.8 11.9 16.5 13 19 14.5 24.5 15 24.9 17.5 24.2 18.5 24.3 18.9 24.5 22 26.9 23.3 28.5 23.7 29.5 23.4 30.5 20.6 32.5 19.7 33.5 19.7 34.5 20.6 37 20.5 38.6 20 39.4 19.5 39.7 17.5 40.2 16.9 40.5 16.5 41.5 16.4 43.5 15.4 45.5 15.2 46.5 15.6 47.5 17 49.1 18.7 53 19.5 56.6 21.5 59 21.6 61.5 21.9 62 24.8 64 25.2 64.5 25.3 65 24.5 66.6 24 67 23 67 21.5 66.1 20.9 65.5 20.5 64.5 20.4 62.5 20 62.2 17 61.4 15.5 61.5 14.5 61.9 14 62.3 12.6 64.5 11.9 67 12 68 12.4 68.5 13.4 69 15.5 69.4 18 71.2 19.5 71.8 21 71.7 23 70.5 23.5 70.3 24 70.4 25 71.8 25.4 73.5 25.1 74.5 23.6 77 23.4 78 23.6 78.5 24 79.1 25 79.8 28 81.1 29 81.3 30.5 81 31 80.6 31.2 78 31.5 77.4 32 76.8 34 75.8 36.9 73.4 39.9 71.7 42.4 69.6 43.4 69.1 44.4 69.1 47.4 70.4 48.1 71 50.2 74 50.9 74.6 51.9 74.9 52.9 74.9 56.9 74.2 61.9 72.7 64.4 71.5 67.4 70.7 67.9 70.3 68.6 69 69 66.5 70.2 64 70 62.5 67.9 59.5 66.9 56.5 65.6 54 65.6 53 65.8 52.5 67.4 51 68.4 50.7 71.9 50.3 74.9 50.5 77.9 49.5 80.4 49.1 84.4 48.2 84.9 48 86.4 46.4 87.4 45.7 91.9 44.3 95.4 43.6 98.9 41.3 102.9 39.8 105.9 37.9 106.9 37.8 108.9 37.8 109.8 37.6 110.7 37 112.8 34.4 115.7 32 117.5 28.5 118.4 27.5 119.6 26.5 121.3 25.6 122.8 25.3 125.8 25.3 127.3 25.5 129.8 26.5 130.8 27.2 131.8 28.1 132.2 29.5 132.5 34 133.8 36.8 134.3 39.5 134.1 41 132.8 43.5 132.6 44.5 132.6 46.5 133.5 50 133.3 52 131.8 54.3 129.8 55.9 127.8 58.8 126.8 59.6 124.8 60.3 123.8 61 122.4 62.5 121.3 64.3 120.8 64.8 119.8 65.2 115.8 65.5 115.1 66 114.8 67 114.7 70 115 71 115.8 72.1 116.4 73.5 116.5 75 116.1 76 115.3 76.6 113.8 76.8 113.3 76.5 111.8 75.3 110.8 75.2 109.5 76 108.5 77.5 108.7 78.5 109.6 80 109.9 81 109.8 82 108.7 84.5 109 85.5 111.4 88.5 113.1 90 117.2 93 119.3 95.6 120.4 96.5 122.3 99 123.3 99.9 125.3 100.7 125.6 101 125.6 101.6 124.4 103.6 123.3 106.5 122.8 106.7 120.8 106.3 119.3 106.9 118.1 108.1 116.3 110.7 115.8 111.1 115.3 111 114.3 109.5 113.8 109.3 113.3 109.4 112.8 109.7 112.1 110.6 111.6 111.6 111.5 112.6 111.6 114.6 111.3 114.9 110.8 114.9 107.4 112.4 103.9 112.4 101.4 113.1 100.9 113 100.4 112.5 99.9 111.7 98.9 109.1 98.7 107.6 99.4 105.6 99.4 105.1 99.1 104.6 98.4 104.1 97.9 104.1 95.9 104.6 93.4 103.8 91.4 104.2 90.9 104.1 90.4 103.7 89.5 102.1 88.9 101.4 87.9 101 82.4 100.2 80.9 100.3 80.5 100.5 79.9 102.3 79.4 102.9 78.9 103 77.9 102.6 77.5 102.1 77.2 100.5 76.9 100 75.9 99.6 74.9 99.8 74.4 100.1 73.8 101 73.4 102.5 73.2 102.1 72.9 102 72.4 101.4 71.7 100 71.5 99 71.6 96.5 71 95 69.9 93.6 68.4 92.9 64.9 92.8 60.8 94.5 59.9 95.1 59.3 97 58.4 97.4 57.4 97 55.9 95.8 54.9 95.4 52.1 96 48.9 96 48.2 95.5 47.1 93.5 44.4 92.2 42.9 90.2 42.4 89.8 41.9 89.8 40.9 90.5 39.9 92 38.9 93 37.9 93.1 36.5 92.3 35.5 92.2 32 94.5 30.5 96.1 30 96.3 29.1 96 28.5 95.5 29.2 94.5 29.4 93.5 29 92.5 28.5 92.5 28 92.8 27.6 93.5 27.7 94.5 28.1 95.5 26.8 96.5 25.5 97.2 22.5 97.5 22 97.4 20.9 95.5 19 93.3 18 92.7 17 92.7 15.7 93.5 15.1 94.5 14.7 98 14.8 99 15.5 99.4 17 99.2 19 99.2 21.5 98.5 21.9 99 22 100 21.5 100.5 21 100.7 18.5 100.8 17 101.1 16.3 101.6 15.1 103.6 14.5 104 13.5 104.1 12 103.9 11.5 104 7.4 108.6 6.4 110.1 6 112.1 6.3 113.1 7.4 115.1 7.5 118.1 8.1 121.1 8.5 122.1 10 124.1 10.4 125.1 10.3 126.1 10 126.7 9.5 127.1 7.4 128.1 6.9 128.6 6.8 129.1 6.9 129.6 8.1 131.6 8.5 134.1 9.8 136.6 9.9 138.1 9.1 141.1 7.9 143.6 5.5 146.1 4 147.3 3 147.9 2.5 147 2 143.9 1.8 138.6 1.8 131.1 2.2 124.6 2 121.1 2 114.1 2.7 107.6 2 102.6 1.8 92.5 2 84.5 2.5 79.3 3 78.6 4 78.6 5.5 78 8 76.1 8.5 76.1 9 76.5 9.5 77 9.6 77.5 9 80 9.2 81 9.5 81.5 11.5 83 11.9 83.5 12.2 84.5 12.4 86.5 12.8 87.5 13.9 88.5 15 89 16 88.8 16.5 88.3 18.9 85.5 19.4 84.5 19.5 83.5 19.3 82.5 18.7 81.5 17 80 15.5 78.3 14.5 77.9 12.5 77.7 11.6 77 11.7 76.5 12.8 75 13.1 74 12.5 72.4 11.5 71.3 10.5 71.2 10 71.6 9 74.4 8.5 75.2 8 75.4 6.5 74.6 4.2 72.5 2.5 71.4 2.1 70 2 55.5 2.3 51 2 47.5 1.9 38.5 2.3 31 2.8 27.5 2 22.8 2 12 2.2 6.5 2.5 3 3 2.7 3.5 2.9 4.5 3.9 5.5 4.1 6 3.8 6.2 3.5 6.1 3 6.5 2.5 7 2.4 12.5 2.4 15.5 2.9 19.3 2 28.8 1.5ZM97.9 72 97.5 72.5 98.3 74.5 97.9 77 98.4 78 98.9 78.6 99.9 79.1 100.9 79.1 102.1 78.5 103.3 77.5 103.6 77 103.8 76.5 103.5 75.5 102.9 74.9 100.7 73.5 100 72.5 99.4 72 98.4 71.8 97.9 72ZM114.1 2 117.3 1.9 123.3 2.2 128.8 2.3 131.4 2 134.4 2 134.3 5 134 6 133.6 6.5 131.8 7.8 128.8 7.3 126.3 7.2 124.3 6.8 122.8 6.9 121.8 7.4 118.9 9.5 118.5 10 118.3 11 117.8 11.2 117.3 11.2 116.8 11 116.3 10.5 116.1 9 115.5 8 114.8 7.4 112.3 6.2 111.8 5.5 111.6 3 111.9 2.5 114.1 2ZM131.5 15.5 131.8 15.3 131.9 15.5 131.8 16.8 131.2 16.5 131.2 16 131.5 15.5ZM127.7 19 128.3 18.8 128.9 19.5 128.6 20.5 127.8 21 127.3 21 127 20.5 127.2 19.5 127.7 19ZM32.1 58.5 33 58 33.5 58.2 34 58.6 35.2 60.5 35.3 61 34.9 61.5 33.5 62.1 32.5 61.9 32 61.4 31.6 60 31.8 59 32.1 58.5ZM39.3 62.5 39.9 62.3 40.9 62.7 42.1 63.5 42.2 64 41.6 64.5 40.9 64.7 39.9 64.6 39.4 63.7 39.3 62.5ZM73.4 103.1 73.9 102.7 74.3 103.1 74.5 103.6 73.9 103.9 73.5 103.6 73.4 103.1ZM131.7 103.1 131.8 102.7 132 103.1 131.8 104 131.7 103.1ZM21.1 105.6 21.5 105.2 22 105.2 22.2 105.6 22.1 106.1 21.5 106.5 20.9 106.1 21.1 105.6ZM130.3 117.1 130.8 116.8 131.4 117.1 131.6 118.1 131.6 119.1 131.3 120.4 129.9 122.1 129.5 123.1 129.4 124.1 129.7 126.6 129.4 128.1 128.8 128.8 128.3 128.9 126.8 128.9 125.8 128.7 124.9 128.1 124.2 127.1 123.9 126.1 124.1 125.1 124.8 124.1 127.3 122.1 127.6 121.6 128.4 119.1 129.2 118.1 130.3 117.1ZM87.3 118.1 87.9 117.8 88.9 117.8 92.9 119.6 97.4 120.8 97.9 121.1 99.2 123.1 100.4 124.2 101.4 124.7 103.2 125.1 103.8 125.6 104.4 127.6 105.4 129.1 105.4 129.6 104.9 130 104.4 130.1 102.9 130.1 101.4 129.8 100.9 129.9 98.9 132.1 98.4 132.2 96.4 131.7 95.4 132.1 93.9 133.6 92.1 136.1 91.4 136.7 90.9 136.8 89.9 136.6 87.9 135.6 85.9 135.3 83.4 134.3 82.4 133.8 80.4 132.1 79.4 131.7 78.4 131.7 77.4 132 74.9 133.2 71.9 134.1 69.4 135.7 68.4 135.9 63.4 135.7 61.4 135.9 59.9 135.7 58.5 135.1 55.9 133.3 55 132.1 54.4 129.6 54.6 127.6 54.5 126.6 53.9 125.1 53 123.6 52.8 122.6 53.4 120.1 53.8 119.6 54.4 119.2 57.4 118.7 59.9 118.6 62.4 118.1 65.4 118.5 68.4 118.3 70.9 119.1 72.4 119.3 76.4 119.3 82.4 119.6 84.9 119.2 87.3 118.1ZM62.4 128.5 60.9 128.8 60.4 129.1 60.2 129.6 60.6 130.6 61.4 131.6 62.4 132 62.9 131.9 64 131.1 64.8 130.1 64.9 129.6 64.7 129.1 63.9 128.7 62.4 128.5ZM38.4 118.6 39.7 118.6 40.3 119.1 40.5 119.6 40.4 120.1 39.9 120.9 38.9 121.4 38.4 121.4 37.7 121.1 37.3 120.6 37.2 120.1 37.6 119.1 38.4 118.6ZM109.3 120.1 109.8 119.8 110.8 120.1 111.3 121.1 111.1 121.6 110.8 121.7 109.9 121.1 109.4 120.6 109.3 120.1ZM48.4 124.1 48.9 123.7 49.3 124.1 48.9 124.5 48.4 124.1ZM111.2 124.6 111.8 124.7 113.1 126.1 113.3 127.6 112.8 128.6 111.3 128.5 110 128.1 109.4 127.6 109.4 127.1 109.9 126.1 110.8 124.8 111.2 124.6ZM129.2 129.6 129.8 129.5 130.3 130.3 130.3 131.2 129.8 131.9 129.3 131.8 128.8 131.1 128.8 130.4 129.2 129.6ZM124 139.6 124.8 139.6 125.9 141.1 126.7 141.6 129.3 141.9 129.8 142.2 132.9 146.6 134.1 149.1 134.7 151.1 135.3 156.1 133.8 161.8 133.3 162.6 132.8 162.8 131.8 162.8 130.3 162 128.8 162 125.3 163.3 122.3 163.4 119.8 164.8 117.8 164.8 113.8 165.6 110.8 166.9 109.4 167.2 105.9 166.2 103.9 165 102.9 164.7 101.9 164.9 99.9 166 98.9 166.2 97.9 165.9 96.2 165.1 95.4 164.9 94.4 165 91.9 165.7 87.4 164.5 86.4 164.6 83.9 165.2 82.4 165.2 80.9 164.8 78.4 163.7 75.4 163.4 72.9 162.4 70.9 163.1 68.9 163.2 67.9 163.6 67.3 164.1 65.9 166.2 64.9 167.1 63.4 167.7 60.4 167.8 58.2 169.6 56.4 170.3 51.4 170.4 45.4 171.2 42.9 171.9 41.4 172.1 39.7 171.6 37.4 169.8 36 169.1 35.7 168.6 36 167.4 37.4 165.9 39.4 165.2 42.4 163 47.4 161.3 49.4 160.2 50 159.6 50.1 159.1 49.9 158.6 49.4 158 48.4 157.3 47.4 157.1 44.9 157.1 42.9 156.3 42.4 155.9 41.9 154.9 41.3 152.6 41.4 150.9 42.8 148.6 43.4 146.1 43.9 145.2 44.8 144.6 46.4 144 48.4 142.9 49.4 142.7 50.4 142.8 51.9 143.7 52.9 144.1 56.4 143.9 58.4 145.4 60.4 146 61.4 145.9 62.4 145.5 64.9 143.2 65.4 143 66.4 143.4 68.1 145.1 69.4 145.4 72.9 144.8 76.9 144.8 81.9 143.4 86.4 143.5 91.4 143.1 94.9 143.7 98.9 143.2 99.9 143.5 104.9 145.5 106.9 146 108.9 146.1 110.8 145.7 113.8 144.3 116.3 144.4 117.8 144.1 119.1 143.1 120.4 141.1 121.3 140.5 124 139.6ZM3.8 158.1 5 157.8 7.5 158.2 8.6 159.1 9.2 160.6 9 162.6 8.5 163.8 5 167.2 4 166.9 3.5 166.5 3 165.9 2.9 165.1 2.8 163.6 3 162.1 3.7 161.1 3.8 160.6 3.6 158.6 3.8 158.1ZM4.9 168.1 5 167.8 5.5 167.7 7.5 168.5 8.2 169.1 8.1 169.6 7.3 171.1 6 172.6 4.5 173.6 3 173.9 2.5 173.1 2.5 172.1 3 170.9 4.9 168.1ZM109.1 185.6 109.9 185.6 112.3 186.8 113.8 187.2 118.3 186.7 120.8 185.9 121.8 185.8 122.8 186.2 124.2 187.6 124.6 188.6 123.7 190.6 123.3 192.1 122.6 197.6 122.7 199.1 119.8 199.7 117.1 200.1 110.8 200.4 98.4 200.3 70.9 201.1 59.4 201.2 43.9 201.2 36 201 22 200.1 20 199.5 18.5 199.4 15.5 199.6 11.5 199.4 7.5 200.1 2 200.3 1.7 200.1 2 193.8 2.5 189.4 3 189.3 3.7 190.6 4.5 191.3 7 191.7 9 192.7 11.5 193.2 14 194.7 18 196.6 19 196.5 21 195.7 22 195.5 25.5 195.7 33 194.9 40.9 192.8 48.4 193 53.9 192.5 60.9 193.1 67.4 194 70.9 195.1 72.4 195.2 79.4 195.8 83.4 195.3 86.9 195.7 87.9 195.5 92.4 193.5 95.2 190.6 97.3 189.1 98.9 188.7 105.9 188.1 107 187.6 108.4 186.1 109.1 185.6Z"/>
<path fill="#5ff810" fill-rule="evenodd" d="M42.3 1.5 51.4 1.3 69.4 1.4 84.7 2 87.3 2.5 87.6 3 87.2 4 86.4 4.8 83.4 5.4 80.9 7.4 79.8 8 75.9 8.9 73.9 9.1 70.9 8.8 66.9 9.8 63.9 10.2 61.9 10.1 56.9 9.4 50.9 9.7 46.4 9.5 41.4 9.6 38.4 9.8 28.6 8 26.5 7.3 26 7 25.3 6 25 3 25.3 2.5 27.3 2 42.3 1.5ZM116.1 37.5 117.8 37.4 120.3 38.1 121.2 38 122.3 37.5 123.3 37.5 124.4 38 125.3 39.4 127.3 45.5 128 49 127.6 50 126.3 51 125.5 52 124.1 55 123 56 119.3 57.5 114.8 60.3 108.9 62.1 105.4 62.6 100.4 65.7 98.9 66 96.4 65.4 95.4 65.4 94.9 65.6 93.9 66.5 92.7 68 90.9 72 88.8 75.5 86.9 77.2 85.4 79.5 84.4 80.3 82.9 81 81.9 81.2 81.4 81 80.9 80.2 80.5 78.5 80.2 78 78.1 76.5 77.4 75.8 75 71 74.1 67.5 74.6 63.5 74.2 62.5 73.1 61 72.7 60 72.6 58.5 72.9 57.5 73.9 56.7 75.9 55.8 77.3 53.5 78.4 52.7 81.9 51.6 84.9 51.7 85.9 51.5 89.4 49.3 95.9 47 99.4 45.5 103.9 43.2 105.4 42.7 107.9 42.4 110.3 41.4 112.3 40.3 114.8 38.1 116.1 37.5ZM66.7 121.1 68.4 120.8 75.9 120.9 85.9 121.9 89.9 121.8 91.9 122.2 93.4 123 94.1 124.1 94.2 125.6 93.6 126.6 92.9 127.2 90.4 128.2 88.4 128.7 82.9 128.2 79.4 127.4 73.9 127.8 71.9 127.8 69.4 127.1 65.4 125.6 62.4 125.2 61.4 124.7 60.9 124.1 60.7 123.6 60.8 123.1 61.2 122.6 61.9 122.1 62.9 121.7 66.7 121.1ZM88.2 146.6 91.4 146.7 95.9 147.4 98.9 148.1 102.4 148.1 105.4 149.1 109.4 149.4 110.8 149.1 114.3 147.9 121.3 147.3 124.3 147.9 126.8 149.2 129.3 150.1 129.8 150.6 129.8 151.1 127.8 151.8 127.2 152.6 127.1 154.1 127.7 156.1 127.3 156.7 126.7 157.1 123.8 157.7 121.3 159.2 118.3 159.7 113.3 161.1 108.4 161.4 104.9 160.2 103.4 159.9 102.2 160.1 99.4 161 97.9 161.3 94.4 161.1 89.4 161.4 84.4 161 80.9 161.1 78.9 160.6 76.6 159.6 71.8 156.1 70.4 154.5 70 153.6 70 152.6 70.4 152 73.4 149.2 77.4 147.4 81.4 146.6 85.4 146.8 88.2 146.6ZM111.2 191.6 114.3 191.3 115.3 191.5 116.3 192.1 117 193.1 117 193.6 116.7 194.6 114.9 197.1 114.1 199.1 110.3 199.7 105.9 199.8 100 199.1 99.6 198.6 99.2 197.6 99.4 196.1 100.2 194.6 101.4 193.4 102.4 193.2 104.4 193.7 105.4 193.7 108.1 192.1 111.2 191.6ZM51.3 194.1 54.4 194 61.9 194.8 65.9 195.3 69.4 196.1 79.4 197.2 82.9 197.2 86.9 198 88.4 198 91.4 197.5 95.4 197.7 96.6 198.1 97.7 199.1 93.4 199.7 88.4 199.8 82.4 200.3 70.9 200.8 59.9 201 43.9 201 36 200.7 29 200.1 25.8 199.1 28 197.8 29.8 197.1 37.4 195.3 41.9 194.4 44.4 194.3 48.9 194.3 51.3 194.1Z"/>
<path fill="#b9fa1e" fill-rule="evenodd" d="M35.4 2 50.4 1.6 67.4 1.6 76.2 2 79.6 2.5 80.1 3 79.6 4.5 79 5.5 78.4 6 77.4 6.5 74.9 7.1 70.4 7.1 64.9 8.5 62.9 8.6 60.9 8.5 57.4 7.8 49.9 8.2 41.4 7.6 37.9 7.7 36.5 7.5 34.9 7 31.7 5.5 31.1 5 30.5 4 30.4 3 31.1 2.5 35.4 2ZM111.6 45 113.8 44.9 115.8 45.7 117.3 47 119.3 49.5 119.7 50.5 119.5 51.5 118 53 116.8 54.5 115.8 55.1 109.8 57.1 106.4 57.6 105.4 58 102.4 60.2 101.4 60.3 99.4 59.5 98.4 59.6 96.9 61 95.9 61.7 92.4 63.1 89.1 64 88.4 64.5 87.4 65.9 85.2 70 83.4 71.7 82.4 71.9 81.9 71.6 79.9 70 78.9 69 78.4 68 78.2 67 78.4 63.5 78.4 60.5 78.9 59 80.4 56.9 80.9 56.6 81.9 56.6 82.9 57 84.4 58.1 84.9 58.1 90.9 56.5 91.9 56 93.9 53.5 96.5 52 97 51.5 98.3 49.5 98.9 49 104.4 46.7 105.4 46.7 107.4 47.1 107.9 47 110.3 45.5 111.6 45ZM69.6 122.6 73.9 122.2 82.1 123.1 84.3 123.6 86.4 124.3 88.1 124.6 88.6 125.1 88 125.6 87.4 125.6 82.9 125.7 79.9 125.6 71.9 125.8 70.4 125.6 69.1 125.1 67.9 124.1 67.8 123.6 68.2 123.1 69.6 122.6ZM81.1 149.6 93.4 149.4 95.4 149.6 101.7 152.6 102.2 153.6 102.3 155.6 101.7 156.6 101.1 157.1 99.9 157.7 98.4 158 94.9 157.5 90.9 158.1 87.4 157.7 81.4 157.8 79.9 157.6 78.4 156.6 77.4 155.6 76.9 154.6 76.9 153.1 77.4 151.9 78.5 150.6 79.4 150 81.1 149.6ZM109.8 154.1 110.3 153.7 111.3 153.6 113.8 154 115.3 154.6 115.8 155.1 115.8 155.6 115.3 156.6 114.6 157.1 113.3 157.4 112.3 157.3 110.8 156.7 110 156.1 109.5 155.1 109.8 154.1ZM51.5 195.1 54.9 195.1 63.9 196.1 67.4 196.9 78.9 198.3 82.7 199.1 78.7 200.1 68.9 200.6 43.9 200.8 33 200.1 30.5 199.1 32.5 198.1 36.9 196.6 43.4 195.4 51.5 195.1Z"/>
<path fill="#fffa0f" fill-rule="evenodd" d="M45.5 2 68.4 2 72.7 2.5 73.4 3 73.3 3.5 72.8 4 70.6 5 64.4 6.8 62.4 7.1 56.9 6 49.4 6.5 47.4 6.3 45.7 6 42.4 4.8 39.4 4 40.1 3 41.5 2.5 45.5 2ZM91.8 60 91.9 59.8 91.9 60 91.8 60ZM48.6 196.1 52.9 195.9 56.4 196.1 63.4 197.1 65.9 197.6 70.4 198.1 74.9 199.1 74.1 199.6 72.8 200.1 68.9 200.3 59.9 200.5 43.9 200.5 36.7 200.1 34.4 199.1 36.1 198.1 37.4 197.6 43.4 196.4 48.6 196.1Z"/>
<path fill="#ffa50a" fill-rule="evenodd" d="M60.9 3 63.1 3 63.6 3.5 61.9 3.8 61.2 3.5 60.9 3ZM44.9 197.1 51.4 196.7 55.4 196.7 58.9 197.3 64.4 198.5 70 199.1 68.7 199.6 67.4 199.8 63.4 199.9 59.9 200.3 43.9 200.3 41.2 200.1 37.5 199.1 40.1 198.1 44.9 197.1Z"/>
<path fill="#fa3c0f" fill-rule="evenodd" d="M48.6 197.6 51.9 197.4 56 197.6 58.8 198.1 61.4 199.1 59.4 199.8 43.9 199.8 41.6 199.1 44.4 198.1 48.6 197.6Z"/></g><rect x="0.45" y="0.45" width="144.90" height="201.20" fill="none" stroke="#1446f5" stroke-width="0.9" opacity="0.55"/></g>
<rect x="323.20" y="26.70" width="11.40" height="17.14" fill="#fa3c0f"/>
<rect x="323.20" y="43.54" width="11.40" height="17.14" fill="#ffa50a"/>
<rect x="323.20" y="60.38" width="11.40" height="17.14" fill="#ffff00"/>
<rect x="323.20" y="77.22" width="11.40" height="17.14" fill="#a8f616"/>
<rect x="323.20" y="94.06" width="11.40" height="17.14" fill="#46ee1e"/>
<rect x="323.20" y="110.90" width="11.40" height="17.14" fill="#0ff255"/>
<rect x="323.20" y="127.74" width="11.40" height="17.14" fill="#00f5a5"/>
<rect x="323.20" y="144.58" width="11.40" height="17.14" fill="#00ffff"/>
<rect x="323.20" y="161.42" width="11.40" height="17.14" fill="#00a0ff"/>
<rect x="323.20" y="178.26" width="11.40" height="17.14" fill="#0a3cff"/>
<rect x="334.60" y="26.30" width="2" height="0.7" fill="#999"/>
<rect x="334.60" y="43.14" width="2" height="0.7" fill="#999"/>
<rect x="334.60" y="59.98" width="2" height="0.7" fill="#999"/>
<rect x="334.60" y="76.82" width="2" height="0.7" fill="#999"/>
<rect x="334.60" y="93.66" width="2" height="0.7" fill="#999"/>
<rect x="334.60" y="110.50" width="2" height="0.7" fill="#999"/>
<rect x="334.60" y="127.34" width="2" height="0.7" fill="#999"/>
<rect x="334.60" y="144.18" width="2" height="0.7" fill="#999"/>
<rect x="334.60" y="161.02" width="2" height="0.7" fill="#999"/>
<rect x="334.60" y="177.86" width="2" height="0.7" fill="#999"/>
<rect x="334.60" y="194.70" width="2" height="0.7" fill="#999"/>
<text class="t" x="323.60" y="11.10" font-size="9.80">Velocity</text>
<text class="t" x="323.60" y="19.70" font-size="9.06">catalyst upstream</text>
<text class="t" x="341.20" y="31.30" font-size="9.85">1.264<tspan x="369.96" font-size="9.55">×</tspan><tspan x="377.64" font-size="9.75">10</tspan><tspan x="387.79" dy="-3.3" font-size="6">1</tspan></text>
<text class="t" x="341.20" y="48.14" font-size="9.85">1.138<tspan x="369.96" font-size="9.55">×</tspan><tspan x="377.64" font-size="9.75">10</tspan><tspan x="387.79" dy="-3.3" font-size="6">1</tspan></text>
<text class="t" x="341.20" y="64.98" font-size="9.85">1.011<tspan x="369.96" font-size="9.55">×</tspan><tspan x="377.64" font-size="9.75">10</tspan><tspan x="387.79" dy="-3.3" font-size="6">1</tspan></text>
<text class="t" x="341.20" y="81.82" font-size="9.85">8.848<tspan x="369.96" font-size="9.55">×</tspan><tspan x="377.64" font-size="9.75">10</tspan><tspan x="387.79" dy="-3.3" font-size="6">0</tspan></text>
<text class="t" x="341.20" y="98.66" font-size="9.85">7.584<tspan x="369.96" font-size="9.55">×</tspan><tspan x="377.64" font-size="9.75">10</tspan><tspan x="387.79" dy="-3.3" font-size="6">0</tspan></text>
<text class="t" x="341.20" y="115.50" font-size="9.85">6.320<tspan x="369.96" font-size="9.55">×</tspan><tspan x="377.64" font-size="9.75">10</tspan><tspan x="387.79" dy="-3.3" font-size="6">0</tspan></text>
<text class="t" x="341.20" y="132.34" font-size="9.85">5.056<tspan x="369.96" font-size="9.55">×</tspan><tspan x="377.64" font-size="9.75">10</tspan><tspan x="387.79" dy="-3.3" font-size="6">0</tspan></text>
<text class="t" x="341.20" y="149.18" font-size="9.85">3.792<tspan x="369.96" font-size="9.55">×</tspan><tspan x="377.64" font-size="9.75">10</tspan><tspan x="387.79" dy="-3.3" font-size="6">0</tspan></text>
<text class="t" x="341.20" y="166.02" font-size="9.85">2.528<tspan x="369.96" font-size="9.55">×</tspan><tspan x="377.64" font-size="9.75">10</tspan><tspan x="387.79" dy="-3.3" font-size="6">0</tspan></text>
<text class="t" x="341.20" y="182.86" font-size="9.85">1.264<tspan x="369.96" font-size="9.55">×</tspan><tspan x="377.64" font-size="9.75">10</tspan><tspan x="387.79" dy="-3.3" font-size="6">0</tspan></text>
<text class="t" x="341.20" y="199.70" font-size="9.85">0.000<tspan x="369.96" font-size="9.55">×</tspan><tspan x="377.64" font-size="9.75">10</tspan><tspan x="387.79" dy="-3.3" font-size="6">0</tspan></text>
<text class="t" x="323.00" y="210.30" font-size="9.5">[m s^-1]</text>
<text class="c" x="433.00" y="239.00" text-anchor="middle">(<tspan font-weight="bold">b</tspan>)</text>
<g transform="translate(111.90,248.80)"><g filter="url(#soft)"><rect x="0" y="0" width="143.00" height="197.80" fill="#0a32fa"/>
<path fill="#00a0fa" fill-rule="evenodd" d="M0.5 0.5 88.5 0.3 142.1 0.5 142.3 1 142.4 9 142.2 45 142.3 62.4 142.1 68.9 141.3 80.4 142.3 98.4 142.5 197.3 66.5 197.6 0.5 197.3 0.3 196.8 0.3 170.3 0.3 11.5 0.4 1 0.5 0.5Z"/>
<path fill="#00fff5" fill-rule="evenodd" d="M1 1 8 0.8 31 1.1 60.5 0.7 89 0.6 119 0.7 141.5 1.1 141.8 14 141.5 22 141.6 37.5 141.3 45 141.5 62.4 141 70 140.4 72.4 139.8 76.9 139.7 79.4 140.3 87.9 141.1 91.9 141.5 98.4 141.4 127.4 141.8 150.8 141.6 163.8 141.9 177.3 141.9 196.8 141.5 197 121 196.9 89 197.4 66.5 197.4 20 196.8 5.5 197 1 196.8 0.7 196.3 0.7 195.8 0.5 170.3 0.6 127.9 0.6 11.5 0.7 1.5 1 1ZM89 177.3 86 177.8 83 178.7 82 179.2 81.4 179.8 80.9 180.8 80.8 181.8 81.1 182.8 82 183.8 83.5 184.8 85.5 185.4 87 185.4 89 185.1 91 184.4 92.1 183.8 93.2 182.8 94 181.3 94.1 179.8 93.8 178.8 93.4 178.3 92.4 177.8 89 177.3Z"/>
<path fill="#00f8aa" fill-rule="evenodd" d="M69.5 1 119 1 139 1.8 140.3 2 141 5.7 141.2 10.5 141 18.2 139.8 21 138.4 25.5 138.8 28.5 138.7 32.5 139.9 36 140 37.5 139.6 39 137.8 42 137.4 43.5 137.7 47.5 137.2 50.4 137.5 52.4 137.6 54.9 138.2 57.9 138.4 60.4 138.1 61.9 136.5 64.9 136.4 65.9 136.8 67.9 136.7 68.9 136.4 69.9 135 72.1 132 70.3 130 69.7 125 69.4 123 68.7 122 68.9 121.5 69.4 121.3 70.4 121.5 71 123 72.4 123.6 75.9 124 76.7 125.5 77.9 125.5 78.4 124.1 79.9 123.9 80.9 124 82.9 123.5 83.9 122.5 84.8 120.5 85.6 120.1 85.9 120 86.4 120.5 87.4 121.7 88.9 122.5 90.7 123 91.2 123.5 91.4 124.5 91.4 125.6 90.9 126 90.4 127.8 87.4 130.6 84.9 132.1 82.4 134 80.4 134.1 79.9 134 79.2 132.5 77 132.1 75.9 132.2 74.9 132.5 74.5 133 74.4 133.5 74.5 135 75.4 136.1 79.4 137 81.1 137.7 83.4 138 86.4 137.7 90.4 139 94.9 139.5 98.4 140 105.4 139.6 108.9 139.7 111.9 138.6 115.4 138.5 118.9 138.6 119.9 139.2 121.9 139.4 123.4 139.3 130.4 138.8 137.4 139.3 139.4 141 143.6 141.1 144.9 141.2 153.8 140.3 164.3 140.4 165.3 141 167.2 141.3 177.3 141.2 182.3 141.4 195.8 141.4 196.3 141 196.5 121 196.4 89 197.2 66.5 197.2 27 196.5 20 196.2 4.5 196.5 1.5 196.3 1 195.8 0.8 170.3 1 127.9 0.8 39 0.9 11 1.1 2 1.4 1.5 2 1.4 7.5 1.2 12 1.4 31.5 1.6 69.5 1ZM72 173.8 69 175.6 66 176.3 64.5 177 62 178.9 59.7 181.8 59.5 182.3 59.5 182.8 60.5 183.8 65.5 186.2 67 186.3 70 185.8 75.5 185.5 77.5 185.7 85 187.1 88.5 187.1 94.3 185.8 95.7 185.3 99.7 182.8 100.1 182.3 100.5 181.3 100.6 180.3 100.4 179.3 98.1 176.3 96.5 175 94 174 92 173.7 87.5 174.1 84.5 174.1 79 174.7 77 174.4 74 173.6 73 173.5 72 173.8ZM76.5 18.9 76 19.3 75.8 20 76 21 77 21.6 78 21.5 78.5 21.3 78.9 20.5 78.9 20 78.5 19.2 77.5 18.6 76.5 18.9ZM97 10.3 92 12.9 89.5 16 89.3 16.5 89.4 17.5 90.3 21 91 22.1 92.5 23 94 23.3 97 22.9 98.9 22 99.7 21 99.8 20 99.7 17.5 99.9 16.5 100.5 15.6 101.8 14.5 102.1 14 102 13.5 98.6 10.5 98 10.2 97 10.3ZM118 132.2 117.6 132.4 117.2 132.9 117.2 133.4 117.6 134.4 118.5 135.1 120.5 135.9 122 136.2 123 136 123.5 135.5 123.6 135.4 123.4 134.9 120.3 132.4 119 132 118 132.2Z"/>
<path fill="#0af855" fill-rule="evenodd" d="M58.8 1.5 88.5 1.2 112 1.3 123 1.5 130.7 2 133.1 2.5 133.7 3 133.7 3.5 133.2 4.5 132 5.5 130 6.5 124.5 7.8 122.5 8 121.5 8.4 121.1 9 120.9 10.5 120.5 12 120.5 13.1 121 13.5 122.5 13.5 123.5 13 124.7 11.5 125.5 11 128 10.6 130.5 10 133.5 9.6 135 9 137 9.7 137.6 10 137.9 10.5 137.9 11.5 137.2 14 136.7 17 135 21.1 132.5 23 129.5 25.6 127 27.4 125.5 28.8 123 30.3 122.1 31.5 121.4 33.5 121.5 34.5 122 34.8 125 35.7 128.4 37 129.5 37.5 130.7 38.5 131.8 40 132.5 41.5 133.1 44 132.9 45 130.5 47.3 128.9 49.9 127 52.2 125.6 54.4 123.8 56.4 122.4 58.4 121.5 59.2 119.5 60.3 117 60.6 116 60.9 112.5 62.9 109.5 64.1 107 66.1 102 67.1 98.6 68.4 97.2 69.4 96.4 70.4 96.1 71.4 96 72.9 96.3 74.4 97 75.4 100.6 77.9 100.9 78.4 100.8 78.9 97.5 82.1 97 82.3 94.5 82.2 94.1 82.4 93.8 82.9 93.9 83.4 94.4 83.9 96 84.7 96.5 85.2 96.7 85.9 96.8 88.4 97 88.9 97.5 89.3 98 89.4 99 89.1 99.8 88.4 101 86.8 101.5 86.5 102 86.6 103.5 88.7 106 90.4 108 92.8 110.5 94.4 111 95 111.4 95.9 111.5 99.4 112 100.4 112.6 100.9 113.5 101.4 114.5 101.5 115.5 100.9 116.5 99.7 117 99.7 117.5 100.1 118 100.9 118.2 101.9 118.5 104.9 118.4 107.4 118.5 108.4 120.6 113.9 121.5 115.2 123.1 116.9 126.3 118.9 128.5 120.8 130.7 121.9 132.5 123.5 135 124 135.7 125.4 135.8 126.4 135.7 127.9 135 130.4 132.9 131.9 132 132.2 131 132.2 129.5 131.6 127 130 121.5 128.5 118 128 114.5 127.1 111.5 127.6 107 126.2 106 126.1 104.5 126.3 103.1 126.9 99.5 129.1 98.5 130.4 98.3 132.4 98.1 133.4 97.2 134.4 96 134.9 95 135 92.5 134.5 90 134.7 87 134.4 86 134.5 84 135.2 83 135.2 78 134.2 75 133 72.5 133 69.5 132.7 67 132.8 64.5 133.8 63.2 134.9 62.6 135.9 61.5 138.6 61 139.1 58.8 140.4 57.9 142.4 56.5 143.9 56.3 144.9 56.5 145.4 57 145.9 57.5 146 61 146.2 64.5 147.1 69.5 148.1 71 148.1 73.5 147.7 77 148.6 80 148.5 83.5 149.1 88.5 149.1 89.7 148.8 92 147.9 94.5 147.4 95 147.2 98 143.3 100.5 140.8 102 139.7 104.5 138.6 107.5 138.6 109.5 138.2 111 138.3 112 138.7 114.5 140.4 117.5 140.4 118.5 140.6 121.5 142 125 142.2 125.6 142.9 126.5 145.1 127 145.5 127.5 145.7 131.5 144.9 135 143.4 136 144.7 136.5 145.9 136.7 149.8 137.1 152.3 136.9 153.3 135.5 156 134.5 158.6 134.2 159.8 134.1 160.8 134.5 161.8 135 162.3 135.6 165.8 137.2 169.3 137.6 170.8 138.4 178.8 137.4 181.8 137.2 182.8 138 185.8 138.4 189.3 139.4 192.3 139.8 195.8 137.5 196 120.5 195.9 89 196.9 66.5 196.9 27 196 19.5 195.3 15.4 195.8 9 196 4 196.1 1.5 195.8 1.1 170.3 1.3 157.3 1.1 140.4 1.3 127.9 1.1 39 1.2 11 1.5 2.1 3 1.8 8 1.6 12 1.9 23.5 1.9 29 2.7 33.5 3 40.8 2 58.8 1.5ZM97.5 7 94.3 7.5 92.5 8 88.5 10.3 86.5 11.1 85.5 10.8 84.3 9 83.5 8.4 76.5 7.3 75.2 7.5 74 8 72.1 9 70 10.6 66.5 12 65 12.3 62.5 11.8 61 12 57.5 14.9 55 16.5 53.9 17.5 53.8 18.5 55.4 21 55.5 22 55.3 23.5 55.5 25 56.2 26 58.1 27 59.9 29 61.5 29.7 65.5 30.7 68.5 30.6 71.5 31.4 77 31.4 80.5 32.4 85.8 31.5 89 28.9 91.5 27.7 93 27.4 96 27.3 97 27 99.5 25.4 103.8 23 107.5 19.7 108.5 19 110 18.3 112.5 17.9 113.5 17.4 114.6 16.5 116.3 14.5 116.9 13 116.6 11 116.2 10.5 115.5 10.5 113 11 111.5 10.8 108.8 8.5 107.1 7.5 106 7.1 104.5 6.9 101.5 7.2 97.5 7ZM87 167.3 85.5 167.9 82.5 169.9 79.5 171 77.8 170.8 74.5 169.3 73 169.3 70.5 169.5 69.5 169.7 67.5 171.4 66.5 171.8 62.5 171.4 60 172.3 59 172.4 58 172 56 170.7 55 170.4 54.5 170.4 53.8 170.8 53.5 171.3 53.3 173.3 53 173.9 52.5 174.4 51.5 174.8 49.5 174.5 48.5 174.7 46 176.6 45 177 44 177 41.5 175.9 40.5 176 40 176.4 39.5 177.3 39.3 178.8 39.5 179.4 40 180 42.6 181.3 45 184.8 46 185.8 47.5 186.6 51 187.9 54.5 188 60 188.7 63 188.9 66.5 189.3 73 188.5 78 188.4 82 188.5 85.5 189 87.5 189.1 92 188.6 95.5 188.7 98.5 188 101.5 188 103.3 187.8 104.5 187.3 105 186.8 106.5 184.7 107.5 184 109.2 183.3 109.5 182.8 109 177.3 108.5 176.3 108 175.8 105.5 174.7 103.5 172.9 100 170.4 99 169.8 95 168.7 92 168.4 89.5 167.3 88.5 167.2 87 167.3ZM17.5 80.8 15 81.5 13.5 82.2 12.5 83.3 12.1 84.4 12 87.4 11.3 90.9 11.3 92.9 12.5 98.5 13 99.1 13.5 99.4 14 99.4 14.6 98.9 15 96.4 15.5 95.5 16.5 95 18 94.7 18.5 94.4 18.8 93.9 18.6 92.9 17.6 91.4 17.7 90.9 19 90.7 21.5 91.8 22.5 91.8 23.5 90.7 24.2 89.4 24.5 88.4 24.5 86.9 24.1 85.4 21.5 82.2 20 81.3 17.5 80.8ZM21.5 37.2 21 37.6 20.5 38.3 19.6 41 19.5 42 20 43 22 44.1 23.2 45.5 24 46 25.5 46.1 27 45.5 27.5 45 28.1 43 29.4 41.5 29.6 41 29.6 39.5 29 38.1 28.5 37.7 27.5 37.7 25.5 38.5 24.5 38.7 22.5 37.2 21.5 37.2ZM41.5 120.3 41 120.5 40.7 121.4 40.8 122.9 41.1 123.9 42 124.8 43 125.4 44.5 126 45 126.1 45.4 125.9 45.6 125.4 45.5 124.4 44.9 122.9 43.5 121.4 42.5 120.7 41.5 120.3ZM49 129.3 48.5 129.5 48 130.1 47.1 133.4 46.5 134.3 45 135.9 44.6 137.4 44.9 138.4 46.1 140.9 46.4 143.9 46.7 144.9 47.1 145.4 48 146 50.5 146.8 51.6 146.4 53.5 142.9 53.6 141.9 53 139.9 53.2 138.9 54 138.2 56 137.2 56.4 136.9 56.5 136.4 55.9 133.9 55.3 132.9 54.5 132.5 54 132.5 52.5 133.4 52 133.4 51.5 132.9 51.4 132.4 51.7 130.4 51.5 129.7 50.5 129.2 49 129.3ZM58 86.2 57.5 86.8 57.4 87.4 57.6 88.4 58 88.9 59.5 89.4 60.5 89.2 61.1 88.9 61.3 88.4 61.2 87.9 60.5 87.2 59 86.2 58 86.2ZM74.5 50.8 72.5 51.4 68.5 52 65.5 52 61.9 52.4 61.5 52.9 61.8 54.4 61.2 56.9 61.4 57.9 62 58.6 63 59 65.5 58.9 69 59.8 72.5 60 76 59.4 79.4 58.4 83.5 56.9 84.5 56.3 85.5 54.9 85.9 53.4 85.9 52.9 85.5 52.2 82.6 50.9 81 50.5 78 50.7 76 50.6 74.5 50.8ZM91.5 94.8 91.1 95.4 91.2 96.4 91.5 97 92 97.4 92.5 97.3 93 97 93.3 96.4 93.2 95.4 92.5 94.7 91.5 94.8ZM17.5 134.9 17 135.5 15.4 138.9 14.7 141.4 14.6 143.9 13.4 145.9 13.8 146.4 14.7 146.4 15.5 145.9 16.5 144.8 17.5 144.3 18.5 144.4 19.5 145.1 20.4 146.9 21.1 150.3 22.3 152.8 22.7 154.8 23 155.5 23.5 155.7 24.5 155.4 26.4 153.8 27.1 152.3 28.3 150.8 29 149.3 29.5 148.8 35 148.7 36 148.3 36.2 147.4 36 146.4 34.4 142.4 33.6 141.4 32.5 141.1 31.5 141.3 30.5 141.9 29 143 28.5 143.2 28 143.2 27 142.4 26.5 141.4 25.8 138.4 25 137.2 24 136.9 21 136.5 18.5 135 18 134.9 17.5 134.9ZM72 99.8 71.8 99.9 72 100 72.2 99.9 72 99.8ZM18.5 168.3 16.5 169.8 16.1 170.3 16.1 170.8 16.4 171.8 17.1 172.8 18 173.3 19.5 173.4 20.5 172.8 21 172.2 22.1 170.3 22.3 169.3 22 168.6 21 168 19.5 167.9 18.5 168.3ZM113.3 81.4 114 81.5 114.1 81.9 113.8 82.4 113.3 82.4 113 82 113.3 81.4Z"/>
<path fill="#5ff810" fill-rule="evenodd" d="M55.1 2 88 1.5 112.5 1.7 123.8 2 125.9 2.5 126.2 3 125.2 4 124 4.5 120.5 4.9 112.5 6.1 105 5.1 101.5 5.4 96 5.5 89 6.3 84.5 5.7 76 5.4 69 5.7 65.5 6.1 62 5.7 58 5.7 55.5 5.2 52.5 4.3 50 4.5 48.5 4.1 47.8 3.5 47.9 3 48.9 2.5 55.1 2ZM4.9 2.5 7.5 2.2 9 2.2 10.1 2.5 10.5 3.5 10.5 4.5 10.2 7.5 10.3 13.5 10.2 17 10.7 28 10.2 37.5 10.3 41 10.2 45 9.9 48.5 11.4 56.4 11.3 57.4 10.2 60.9 8.8 66.9 10.6 78.9 10.5 80.2 9.1 86.9 9.3 89.9 9 93.4 9.3 96.4 9.1 99.4 9.5 102.9 9.3 104.4 8.5 106.9 8.9 109.4 9.2 112.4 10.1 116.9 10.1 118.4 9.7 121.9 10.1 125.4 10 128.4 11.1 132.9 10.5 137.9 8.8 146.9 9.1 150.8 9.6 153.8 9.3 156.3 9.8 160.8 9.6 170.3 10.3 174.8 10.1 177.8 10.5 180.8 10.5 184.3 10.8 188.8 10.1 194.8 9 195.1 5.5 195.3 4 195.2 2.5 194.8 2.3 193.8 1.9 189.8 1.8 178.3 1.4 170.8 1.5 165.2 2 157.3 1.8 153.8 1.8 150.3 1.5 146.4 1.5 135.4 1.7 132.4 2.3 127.4 1.8 123.4 1.6 114.9 1.8 109.9 1.6 105.9 1.8 102.4 1.5 87.9 1.9 83.4 2 77.4 1.5 67.4 1.4 58.4 1.7 46.5 1.4 38 1.8 30 1.6 23.5 1.9 16.5 1.6 11 2 6.5 4.2 3 4.9 2.5ZM120.3 20 122 19.7 123 19.9 123.4 20.5 123.4 21.5 122 26.1 121.1 27.5 119 30 116.5 31.4 112 34.9 108.2 36.5 105.5 38.3 102 39.5 100.5 40.5 98.5 42.1 97 42.7 93 42.8 91.5 43.3 90.5 44.1 88.5 46.5 87.5 47.1 86.5 47.5 84.5 47.8 83 47.8 79 46.2 75 46.5 70 45.5 69 45 68.5 44.5 67 41.7 66.5 41.2 65.5 40.7 64.5 40.9 61 42.4 59 42.8 58 42.7 56.5 42 55.5 41.8 53 42.3 48.5 42.5 47.1 42 46.2 41 46.1 40.5 46.4 39.5 47.8 37 48.5 36.6 50 36.4 51 36.1 51.7 35.5 52.5 34.2 53.5 33.8 57.5 33.4 61.5 33.8 62.5 34 65 35.3 66 35.5 68.5 35.2 71.5 35.6 77 35.7 81.5 36.2 83.5 36.2 84.5 36.1 89.5 34 91.2 32.5 92.7 31.5 94 30.8 98 29.3 102 27 105 25.5 108.5 23.2 112.4 22 116 20.5 120.3 20ZM121.7 41 123.5 41 124.5 41.8 125.1 43 125.4 44.5 125.5 45.5 125.4 46.5 124.2 48.5 121.3 51.9 117.5 55.7 111 60.1 107 61.1 102.5 63.8 98 65.6 95.5 66.8 91.8 67.9 88 70.4 84.5 71.6 80.5 71.8 77.5 72.4 74 74.1 72 75.7 71.5 75.8 66 73.6 63 72.9 61.5 72.9 55.5 77 54.5 77.3 53.5 77.4 51.7 76.9 49 75.3 48.7 74.9 48.6 72.9 48.2 71.9 45.9 69.4 45.9 68.4 46.7 67.4 47.3 66.9 48 66.7 50 66.4 51 66.1 52 65.5 54 63.8 55.5 63 56.5 63 59.5 63.4 63 62.7 66 62.9 69 62.5 72 62.8 73.5 62.8 75 62.4 82 59.9 85.7 58.9 88.5 57.4 92 54.1 95 53 96 52.4 98.5 49.9 99.5 49.2 110.5 45.3 114.5 42.6 116.5 41.6 118 41.2 121.7 41ZM106.1 106.4 107.5 106.4 109.5 107 113.8 110.4 115.3 112.9 118.3 115.9 121.7 120.9 122 121.9 121.5 123 120.5 123.5 117 123.6 112.5 123 107.5 121.7 103.5 122.1 102.4 121.9 101.7 121.4 101.4 120.4 101.9 118.4 101.6 117.4 98.5 114.3 95.4 112.4 95 111.9 95.1 111.4 95.9 110.4 97.1 109.4 98 109.1 100.5 109.2 102.2 108.9 103.2 108.4 105 106.9 106.1 106.4ZM20.6 115.4 21 115.2 21.6 115.4 21.9 115.9 21.8 116.4 21 117.3 20.5 117.5 20 117.5 19.7 116.9 19.8 116.4 20.6 115.4ZM68.4 151.3 71 151.1 80 151 89 152.6 93 152.4 95.5 152.5 100 153.6 103 154.2 106.6 155.8 112.5 160.8 113.9 161.8 117 162.6 122 164.5 122.7 165.3 124 167.8 124.4 168.8 124.3 169.8 123.6 170.8 120.4 172.8 118.5 173.6 117 173.8 116 173.5 113.5 171.5 109.5 170.8 102 167.3 95.5 165.3 90 164.3 88.5 164.2 85.5 164.6 82.5 165.9 81.5 166 77 165.3 73.5 165.5 70 165.5 67 165 65.5 164.9 60.5 165.6 58 166.1 50.5 166.7 49 167.2 47 168.4 46 168.7 44.5 168.6 43 168.3 41.5 167.6 40.4 166.3 40.1 164.8 40.3 163.8 40.6 163.3 41.5 162.7 44 161.5 46.5 159.5 50.5 157.2 53.5 154.5 54.5 154.2 56 154 58.5 153.4 62 153.1 68.4 151.3ZM76.8 190.3 82.5 190.1 87 190.8 91 190.8 96 191.2 102.5 191.1 106 191.4 109 191.1 111 191.2 117 192.9 118.4 193.8 119 194.8 113.2 195.8 89 196.7 66.5 196.7 39 195.8 35.5 195.2 31.3 194.8 31.9 193.8 33.5 192.6 38 190.9 39.5 190.7 41.5 190.8 47.5 191.9 55 190.9 64.5 191.4 72.5 190.9 76.8 190.3ZM128.1 193.3 129 193.2 129.6 193.3 130.2 193.8 130.7 194.8 128.5 195 125.6 194.8 126 194.3 128.1 193.3ZM134.8 193.3 135 193.1 135.4 193.8 135.5 194.8 134.2 194.8 134.8 193.3ZM28.3 194.8 29 194.6 29.8 194.8 28.3 194.8Z"/>
<path fill="#b9fa1e" fill-rule="evenodd" d="M84.2 2 93.5 1.9 106 2.5 112.5 2.2 115.7 2.5 116.2 3 115 3.5 112.5 4 111 3.9 105.5 3.1 102 3.8 96.5 4 88.5 4.7 83.5 4.1 69.5 3.4 65.5 3.9 63.6 3.5 62.6 3 63.6 2.5 65 2.4 84.2 2ZM115 24 116.5 23.8 117.4 24.5 117.7 25.5 117.4 26.5 116.6 27.5 111.7 31.5 109.5 32.5 107 33.4 106 33.5 103.5 33.2 102 34.4 101 34.7 100 34.6 99 33.8 98.8 33 99 32.5 100 31.7 101 31.5 103 32.1 103.5 31.9 104.9 29 105.8 28 107 27.1 110 25.7 115 24ZM115.8 46 118 45.6 119.5 46.1 119.9 46.5 120.1 47.5 119.5 49.5 118.6 50.9 117 52.7 110 57.8 106 59.1 102 61.1 97.9 63.4 95.5 64.5 90 65.1 86.5 66.4 81 67.5 78.5 67.7 75.5 67.5 72 68.6 71 68.6 70.5 68.4 70.4 67.9 70.8 67.4 75.5 65.7 77.7 63.9 79 63.2 83.5 61.9 88 61.5 89 61.2 90 60.5 93.7 56.9 97 55 101 52.2 107.5 49.8 112 48.7 113 48.2 114.9 46.5 115.8 46ZM110.4 114.4 111 114.1 112 114.3 113 115.4 113.6 117.4 113.6 118.4 113.2 118.9 111 118.3 109.7 117.4 109.5 116.9 109.4 115.9 109.9 114.9 110.4 114.4ZM69.2 153.3 73.5 152.9 76.5 152.9 84.5 153.9 89.5 155.3 93.5 155.2 96.5 155.6 98.5 156.5 101.5 158.6 104.7 160.3 109 163.1 110.2 164.3 110.6 165.3 110.3 165.8 110 166 109 165.9 105.2 164.8 102.5 163.7 99.5 163.6 96.5 162 91.5 161.1 87.5 161.4 83 162.6 81 162.9 77 162.6 73.5 162.9 67 162.1 64 162.1 61.5 161.3 59 161.5 58 161 57.2 159.8 57.2 158.8 58.4 157.3 59.5 156.7 62 156 65 154.7 69.2 153.3ZM75.3 191.8 78 191.5 83.5 191.5 87 192 90.5 192.2 102.5 193.4 106.5 194.3 109.6 194.8 106.5 195.1 103.6 195.8 88.5 196.5 67 196.5 49.8 195.8 46 194.8 49 193.8 55 192.7 64 192.6 67.5 192.3 72.5 192.2 75.3 191.8Z"/>
<path fill="#fffa0f" fill-rule="evenodd" d="M108.7 52.9 109.5 52.8 110.2 52.9 110.6 53.4 110 54.4 109.3 54.9 108.5 55.2 107.5 55.2 106.9 54.9 107.4 53.9 108.7 52.9ZM102.8 55.4 104 55.1 105.1 55.4 104.9 55.9 104.3 56.4 103.3 56.9 102.5 57.1 102.2 56.9 102.1 56.4 102.8 55.4ZM70.8 154.8 75 154.6 81 155.7 82.6 156.3 83 156.8 83.1 157.8 82.7 158.8 82.3 159.3 81 160 79.5 160 73.1 159.3 69 158.2 68.2 157.8 67.8 157.3 67.7 156.8 68.5 155.8 69.5 155.2 70.8 154.8ZM74.7 192.8 77.5 192.5 83.5 192.4 91.5 193.4 98.1 194.8 94.7 195.8 88.5 196.2 67.5 196.2 57.7 195.8 53.9 194.8 56 194.2 74.7 192.8Z"/>
<path fill="#ffa50a" fill-rule="evenodd" d="M77.1 193.3 83.5 193.2 90.5 194.2 92.7 194.8 92.1 195.3 90.8 195.8 87.5 196 68.5 196 64.7 195.8 63.1 195.3 62.2 194.8 67 194.2 77.1 193.3Z"/>
<path fill="#fa3c0f" fill-rule="evenodd" d="M74 194.3 77 194 82.5 193.9 85 194.2 87.7 194.8 87.3 195.3 86 195.5 70.5 195.5 69.1 195.3 68.9 194.8 74 194.3Z"/></g><rect x="0.45" y="0.45" width="142.10" height="196.90" fill="none" stroke="#1446f5" stroke-width="0.9" opacity="0.55"/></g>
<rect x="38.20" y="267.60" width="11.40" height="16.85" fill="#fa3c0f"/>
<rect x="38.20" y="284.15" width="11.40" height="16.85" fill="#ffa50a"/>
<rect x="38.20" y="300.70" width="11.40" height="16.85" fill="#ffff00"/>
<rect x="38.20" y="317.25" width="11.40" height="16.85" fill="#a8f616"/>
<rect x="38.20" y="333.80" width="11.40" height="16.85" fill="#46ee1e"/>
<rect x="38.20" y="350.35" width="11.40" height="16.85" fill="#0ff255"/>
<rect x="38.20" y="366.90" width="11.40" height="16.85" fill="#00f5a5"/>
<rect x="38.20" y="383.45" width="11.40" height="16.85" fill="#00ffff"/>
<rect x="38.20" y="400.00" width="11.40" height="16.85" fill="#00a0ff"/>
<rect x="38.20" y="416.55" width="11.40" height="16.85" fill="#0a3cff"/>
<rect x="49.60" y="267.20" width="2" height="0.7" fill="#999"/>
<rect x="49.60" y="283.75" width="2" height="0.7" fill="#999"/>
<rect x="49.60" y="300.30" width="2" height="0.7" fill="#999"/>
<rect x="49.60" y="316.85" width="2" height="0.7" fill="#999"/>
<rect x="49.60" y="333.40" width="2" height="0.7" fill="#999"/>
<rect x="49.60" y="349.95" width="2" height="0.7" fill="#999"/>
<rect x="49.60" y="366.50" width="2" height="0.7" fill="#999"/>
<rect x="49.60" y="383.05" width="2" height="0.7" fill="#999"/>
<rect x="49.60" y="399.60" width="2" height="0.7" fill="#999"/>
<rect x="49.60" y="416.15" width="2" height="0.7" fill="#999"/>
<rect x="49.60" y="432.70" width="2" height="0.7" fill="#999"/>
<text class="t" x="38.60" y="252.00" font-size="9.60">Velocity</text>
<text class="t" x="38.60" y="260.60" font-size="8.88">catalyst upstream</text>
<text class="t" x="56.20" y="272.20" font-size="9.65">1.112<tspan x="84.38" font-size="9.36">×</tspan><tspan x="91.91" font-size="9.55">10</tspan><tspan x="101.84" dy="-3.3" font-size="6">1</tspan></text>
<text class="t" x="56.20" y="288.75" font-size="9.65">1.000<tspan x="84.38" font-size="9.36">×</tspan><tspan x="91.91" font-size="9.55">10</tspan><tspan x="101.84" dy="-3.3" font-size="6">1</tspan></text>
<text class="t" x="56.20" y="305.30" font-size="9.65">8.892<tspan x="84.38" font-size="9.36">×</tspan><tspan x="91.91" font-size="9.55">10</tspan><tspan x="101.84" dy="-3.3" font-size="6">0</tspan></text>
<text class="t" x="56.20" y="321.85" font-size="9.65">7.781<tspan x="84.38" font-size="9.36">×</tspan><tspan x="91.91" font-size="9.55">10</tspan><tspan x="101.84" dy="-3.3" font-size="6">0</tspan></text>
<text class="t" x="56.20" y="338.40" font-size="9.65">6.669<tspan x="84.38" font-size="9.36">×</tspan><tspan x="91.91" font-size="9.55">10</tspan><tspan x="101.84" dy="-3.3" font-size="6">0</tspan></text>
<text class="t" x="56.20" y="354.95" font-size="9.65">5.558<tspan x="84.38" font-size="9.36">×</tspan><tspan x="91.91" font-size="9.55">10</tspan><tspan x="101.84" dy="-3.3" font-size="6">0</tspan></text>
<text class="t" x="56.20" y="371.50" font-size="9.65">4.446<tspan x="84.38" font-size="9.36">×</tspan><tspan x="91.91" font-size="9.55">10</tspan><tspan x="101.84" dy="-3.3" font-size="6">0</tspan></text>
<text class="t" x="56.20" y="388.05" font-size="9.65">3.335<tspan x="84.38" font-size="9.36">×</tspan><tspan x="91.91" font-size="9.55">10</tspan><tspan x="101.84" dy="-3.3" font-size="6">0</tspan></text>
<text class="t" x="56.20" y="404.60" font-size="9.65">2.223<tspan x="84.38" font-size="9.36">×</tspan><tspan x="91.91" font-size="9.55">10</tspan><tspan x="101.84" dy="-3.3" font-size="6">0</tspan></text>
<text class="t" x="56.20" y="421.15" font-size="9.65">1.112<tspan x="84.38" font-size="9.36">×</tspan><tspan x="91.91" font-size="9.55">10</tspan><tspan x="101.84" dy="-3.3" font-size="6">0</tspan></text>
<text class="t" x="56.20" y="437.70" font-size="9.65">0.000<tspan x="84.38" font-size="9.36">×</tspan><tspan x="91.91" font-size="9.55">10</tspan><tspan x="101.84" dy="-3.3" font-size="6">0</tspan></text>
<text class="t" x="38.00" y="448.30" font-size="9.5">[m s^-1]</text>
<text class="c" x="146.70" y="467.70" text-anchor="middle">(<tspan font-weight="bold">c</tspan>)</text>
<g transform="translate(399.00,250.60)"><g filter="url(#soft)"><rect x="0" y="0" width="140.50" height="194.30" fill="#0a32fa"/>
<path fill="#00a0fa" fill-rule="evenodd" d="M0.3 0.5 0.5 0.3 6 0.3 27.5 0.4 132 0.3 140 0.3 140.2 0.5 140.1 23.5 139.9 33.5 140.2 51.9 140 60.9 140.2 132.4 140 145.4 140.2 173.3 140.2 193.3 140 194 80 193.9 69.5 194 57.5 193.9 14.5 194 5 194 0.4 193.8 0.3 0.5Z"/>
<path fill="#00fff5" fill-rule="evenodd" d="M0.6 1 1 0.6 6 0.5 11 0.7 19.5 0.5 27.5 0.8 62.5 0.5 70.5 0.7 122.5 0.8 132 0.5 139.5 0.7 139.8 1 139.7 6 139.9 13.5 139.8 23 139.3 33.5 139.7 39.5 139.8 51.9 139.5 60.9 139.9 76.9 139.7 97.4 140 132.4 139.4 145.4 139.8 156.3 140 172.8 139.8 182.8 139.8 192.8 139.8 193.3 139.5 193.6 124 193.7 118 193.5 111 193.7 100.5 193.4 91 193.6 80 193.4 69.5 193.8 57.5 193.4 51 193.6 35.5 193.7 23.5 193.6 14.5 193.8 5.5 193.7 1 193.5 0.8 193.3 0.6 187.3 0.7 106.4 0.6 78.4 0.8 69.9 0.5 35.5 0.6 1Z"/>
<path fill="#00f0aa" fill-rule="evenodd" d="M1 1 6.5 0.8 11.5 1 18 0.8 27.5 1.3 46.5 0.9 56 1.1 62.5 0.8 70.5 1.1 82.5 1 90 1.2 105 1 115 1.2 123.5 1.2 132.5 0.8 139 1 139.4 1.5 139.3 6 139.6 13.5 139.4 23 138.7 33.5 139.2 39.5 139.5 52.4 139 60.9 139.3 65.4 139.3 71.4 139.5 76.9 139.4 97.4 139.6 103.9 139.4 113.4 139.7 132.4 139.6 135.4 139 139.9 138.8 145.4 139.5 157.3 139.7 172.8 139.3 182.8 139.5 192.8 139 193.3 124 193.3 118 193 111 193.4 100.5 192.9 91 193.2 80 192.9 69.5 193.5 57.5 192.9 51 193.2 35.5 193.4 23.5 193.2 14.5 193.5 5.5 193.4 1.5 193.1 1.1 192.8 1 187.8 1.1 167.8 1 119.9 1.1 106.4 0.9 78.4 1.2 69.4 0.8 35.5 1 1Z"/>
<path fill="#0aee8c" fill-rule="evenodd" d="M1.3 1.5 1.5 1.3 5.5 1.1 11 1.4 17.5 1.1 27.5 1.7 33 1.4 47 1.2 56 1.5 62.5 1.1 70.5 1.5 76.5 1.3 90 1.6 105 1.4 115 1.7 123.5 1.6 132 1.1 139 1.5 138.8 6 139.2 14.5 139 25 138.5 29.6 137.7 32 137.5 33.5 137.6 35 138.5 37.2 138.7 39 139.1 52.4 139 55.4 138.5 60.9 138.9 65.4 138.8 71.4 139.2 76.9 139 97.4 139.3 104.9 139 113.9 139.4 132.9 139.3 135.4 138.3 140.9 138 145.4 138.9 153.8 139.2 159.8 139.1 166.3 139.4 173.8 138.9 182.8 139.2 189.3 139 192.9 129 192.8 124 192.9 118 192.6 111 193.1 100.5 192.5 91 192.8 79.5 192.4 69.5 193.2 57.5 192.4 51.5 192.8 36.5 193 29 192.7 23 192.7 17.5 193.2 14.5 193.2 5.5 193.1 2 192.8 1.5 192.4 1.3 187.8 1.3 173.8 1.5 167.8 1.3 157.3 1.5 131.9 1.3 119.9 1.5 106.9 1.3 100.9 1.4 83.9 1.3 78.4 1.6 69.9 1.3 51.9 1.4 45.5 1.1 35.5 1.3 1.5ZM28.5 48.1 28 48.8 27.8 49.4 27.7 50.4 28 51.6 28.5 52.2 29.3 52.4 30 52.4 31.2 51.9 31.7 51.4 31.9 50.9 31.6 49.9 30 48.3 29 48 28.5 48.1ZM43 31.4 42.5 31.7 42.2 32.5 42.4 33.5 43 33.6 43.5 33.3 43.7 32.5 43.5 31.8 43 31.4ZM73.5 149.8 72.7 150.3 72 151.3 71.7 152.8 71.9 153.8 72.5 154.8 73.5 155.3 74.5 155.1 75.5 154.3 76.4 152.8 76.6 151.3 76.3 150.3 75.5 149.6 74.5 149.5 73.5 149.8ZM86.5 168.7 86 169 85.9 169.8 86 170.2 86.5 170.6 86.9 170.3 87.1 169.8 87 169.2 86.5 168.7Z"/>
<path fill="#5cfa16" fill-rule="evenodd" d="M4.8 1.5 7.5 1.5 11 1.7 16 1.4 19.5 1.5 24.8 2 26 2.4 27 2.5 29.9 2 32 1.9 47.5 1.5 55.5 1.9 62.5 1.4 70 1.9 76 1.7 83.5 1.8 87.8 2 90 2.3 95 1.9 106.5 1.8 109.3 2 112.2 2.5 111.5 3 111.3 3.5 110.9 5.5 111.3 7.5 111.5 7.9 112 8.1 113 7.7 113.9 7 114.7 6 115.2 5 115.2 4 115 3.5 114.5 2.8 113.8 2.5 131.5 1.4 134.8 1.5 138.5 1.9 138.6 2 138.3 6 138.9 14.5 138.5 26.4 138 27.9 136.5 29.5 135.6 31 135.1 33 134.8 35.5 134.9 36.5 135.4 37.5 137.5 39.7 137.6 41 137.5 41.3 136.5 41.7 134.5 41.7 133.5 41.4 131.5 40 130.5 39.7 130 39.8 129.5 40.5 129.3 41.5 129.6 43 130.1 44 132.5 46.3 134 47.2 135 47.3 136.4 47 137.5 46.3 138 46.4 138.5 48.5 138.7 52.9 138.5 56.7 138 58 137 59.4 136.7 60.9 137 62.1 138 63.8 138.3 65.4 138.2 70.9 138.8 76.9 138.6 82.4 138.6 97.9 138.9 104.9 138.7 113.9 139.1 133.9 138.5 137.3 138 137.9 135.6 138.9 134.7 139.9 134.7 140.9 135.3 143.4 135.6 145.8 135.5 147.8 135 149.5 134.4 150.3 131.5 153.7 129.5 153.2 128.5 153.2 128 153.4 127.7 153.8 127.6 154.3 127.9 155.3 128.3 155.8 129 156.3 129.5 156.4 130.5 155.9 131.5 154.4 132 154.2 134 154.6 135 154.7 136 154.5 138 153.6 138.5 154.7 138.8 159.8 138.8 166.3 139 173.3 138.9 176.8 138.5 181.1 138 182 136.6 180.8 135.5 180.4 133 180.3 130.5 180.8 130 181.3 129.9 181.8 129.8 185.8 130 186.9 130.5 187.2 131 187.1 136 185.6 137 185 138 184.2 138.5 185.2 138.8 188.3 138.8 191.8 138.8 192.3 138.5 192.6 134.5 192.6 129.5 192.4 123 192.5 120.5 192.3 118 191.6 117 191.7 115.7 192.3 113 192.7 110.5 192.8 105.5 192.3 99 191.2 94.1 192.3 89 192.4 87.2 192.3 83 191.6 81.7 191.3 80 190.4 79 190.2 78 190.5 77.4 191.3 75.5 192.3 73 192.7 68.5 192.9 62.7 192.3 59.9 191.3 59.4 189.8 59.5 189.2 60 188.6 62.9 187.3 63.4 186.8 63.4 186.3 63 186 61 185.8 60 185.4 58.9 184.3 58 182.2 57.5 181.7 56.5 182 54 183.7 53 184 51.5 184 50.7 184.3 50.7 184.8 52.5 187.1 54.4 190.3 54.8 191.3 52.8 192.3 36 192.7 29 192.3 23 192.3 17.5 192.9 14.5 192.9 11 192.7 6 192.8 1.9 192.3 1.7 187.8 1.7 173.8 1.9 167.8 1.7 157.8 1.9 131.4 1.7 118.9 1.9 106.9 1.7 100.9 1.8 83.4 1.6 78.4 2 69.9 1.6 51.9 1.8 45.5 1.4 36 1.7 19 1.5 8 1.7 2 2 1.7 4.8 1.5ZM27 9.8 26.5 10.1 25.9 11 25.6 12.5 26 13.9 27.3 16 27.4 17 27.2 18 26.5 18.8 24.5 19.6 23.5 20.3 22.9 21.5 22.7 23 23 25.3 24 27.4 25 28.2 27 29 27.6 29.5 27.9 30 27.9 30.5 27.5 31.5 25 33.5 24.5 34.2 24.2 35.5 24.2 37 24.6 38.5 25.5 39.7 26.5 40.3 27 40.3 27.5 39.9 30.5 37 31.5 35.5 32.5 32 33.1 28 34.4 25 34.2 24 33.5 23 31.5 21.5 31.1 18 29.8 15 29.8 12 29.5 10.7 29 10 28.5 9.7 27.5 9.6 27 9.8ZM40.5 25.9 39.9 26.5 39.6 27.5 39.6 30.5 39.4 33.5 39.5 34.5 39.9 35.5 41 36.4 42.5 36.8 45 36.7 47.2 36 48.1 35 49.8 31 50 30 49.8 29.5 49 28.5 48.2 28 44 26 42 25.5 40.5 25.9ZM57.5 86.3 57 86.6 56.5 87.1 56.1 88.9 55.9 92.4 56.5 95.2 58.2 99.9 59 101.2 60 102 61 102.3 62 102.4 63 102.2 64 101.2 64.5 99.4 64.2 92.9 63.9 91.4 62.7 89.4 60.5 87.1 59 86.4 57.5 86.3ZM65 108.6 64.5 108.9 63.8 109.9 63.9 110.9 64.2 111.4 65 111.9 66.5 112.4 68 112.6 69.1 112.4 69.4 111.9 69.5 111.4 69.1 110.4 68.6 109.9 66.5 108.7 65.5 108.5 65 108.6ZM76 106.3 75 106.7 74.5 107.2 74.2 107.9 74.2 108.4 74.5 109 75.4 109.9 77 110.7 78 110.7 79 110 80.5 108.4 80.9 107.4 80.9 106.9 80.6 106.4 80 106.1 78 105.9 76 106.3ZM83 4.8 82.5 5 82.2 5.5 82.1 6 82.5 7 83.5 7.9 84.5 8.1 85 7.9 85.7 7 85.9 6 85.7 5.5 85.2 5 84.5 4.7 83 4.8ZM89 61.4 88 61.8 87.4 62.4 87.3 62.9 87.5 63.4 89 63.9 90.5 63.8 91 63.4 90.8 62.4 90 61.7 89 61.4ZM105.5 9.5 103.5 10 101.2 11.5 100 13 99.8 14 100 14.5 101.5 15.7 105.5 17.3 111.5 21 113 21.4 114 21.3 114.5 21 115.3 20 115.6 19 115.6 17.5 115 16.2 112.5 13.9 110.5 10.8 110 10.4 107.5 9.7 105.5 9.5ZM121.5 41.3 120 41.9 117 42.6 116.4 43 115.9 43.5 116 43.7 116.1 44 116.5 44.1 119.5 44 121.5 44.4 122.5 44.4 123 44.1 123.3 43.5 123.1 42 122.5 41.2 121.5 41.3ZM130 100.3 130 100.5 130 100.3ZM27.5 42.8 27 43 26.7 43.5 26 45.1 25.2 49.9 24.4 52.9 24.3 53.9 24.8 54.9 25.5 55.4 27.5 55.8 30.5 55.2 34.5 53.5 36.1 52.4 36.8 51.4 36.8 50.9 36.4 49.9 32.5 47 30 44.2 28.5 43.1 27.5 42.8ZM40 66.4 39.3 66.9 38.8 67.9 39.2 68.9 40 69.2 40.5 69 41 68.4 41.2 67.4 41 66.6 40.5 66.3 40 66.4ZM46.5 75.9 46 76.9 46 77.5 46.5 78.2 47.5 78.1 48.5 77.7 49.6 76.9 49.7 76.4 49.5 75.9 48.5 75.5 47.5 75.5 46.5 75.9ZM56.5 118.9 56 119 55.6 119.4 55.6 119.9 55.9 120.9 57 122 58 122.2 58.5 122 59 121.5 59.2 120.9 59 119.9 58 119.1 56.5 118.9ZM78.5 114.4 77.5 114.6 76 115.4 73.5 116 72.5 116.6 71.7 117.9 71.1 120.4 70.7 121.4 68.3 124.4 68.2 125.4 68.6 126.4 70 127.9 71.5 128.9 72.5 129.1 74 128.7 75.5 127.4 76.2 126.4 76.6 124.9 76.9 121.4 77.6 119.4 78.5 118.1 80.5 116.9 80.9 116.4 80.9 115.9 80.5 115.3 79.5 114.6 78.5 114.4ZM83 64.9 82.5 66.4 82.7 66.9 83 67 83.8 66.4 84.2 65.4 84 64.9 83.5 64.7 83 64.9ZM89.5 98.2 89 98.7 88.6 99.4 88.3 100.9 88.5 102.9 89.3 106.4 89.2 108.4 88.6 109.9 86.3 112.9 85.7 114.4 86.1 115.4 86.7 115.9 90.5 117.9 91.5 118.2 92.3 117.9 92.7 117.4 93.2 113.9 93.6 112.9 94 112.3 95 111.8 96.5 111.5 100.5 111.7 101.5 111.6 102.2 110.9 102.3 109.4 102 108.3 101 107.3 100 106.7 97 105.8 96 105.1 95.4 104.4 93.5 100.9 91.5 98.5 90.5 98 89.5 98.2ZM91 80.9 90.5 81.2 90.1 81.9 90.1 82.9 90.5 83.7 91 84.4 92 85.1 93 85.4 93.5 85.2 93.7 84.4 93.7 83.4 93.1 81.9 92 81 91 80.9ZM103 40.4 102.3 41.5 102.5 42.5 103.5 43.2 104 43.2 104.9 43 105.3 42.5 105.4 42 105 40.8 104.5 40.3 104 40.1 103 40.4ZM108.5 56.6 108 57.4 107.8 58.4 107.7 61.4 108 62.9 108.5 63.6 109.5 64.1 110.5 64.1 111.5 63.9 112.9 62.9 113.7 61.9 114 60.9 113.9 59.9 113 58.7 111 57 109.5 56.5 108.5 56.6ZM28 70.4 27.5 71 26.8 72.4 26.1 74.4 25.8 75.9 26 77.2 26.9 79.9 27.2 81.4 27.1 85.4 27.5 88.4 27.4 89.4 26.7 90.4 23.3 93.4 22.8 94.4 22.5 95.9 22.7 98.9 23.4 101.4 24.2 102.4 25.5 102.8 27.5 102.5 29.5 101.7 30.7 100.9 31.5 99.9 31.7 98.9 31.5 97.9 29.7 94.9 29.4 93.9 29 91.4 29.1 89.9 29.6 88.9 30.8 87.9 34.2 85.9 34.8 84.9 34.9 83.4 34.9 82.4 34.4 81.4 31.6 78.9 30.8 77.4 30.9 75.9 31.9 72.9 31.7 71.4 31 70.5 30 70 29 70 28 70.4ZM40 80.4 39.2 80.9 39.5 81.4 41.4 81.4 42.3 80.9 41.9 80.4 41 80.3 40 80.4ZM72.5 135.6 71.7 136.4 71.1 137.9 70.8 139.4 70.9 140.4 71.5 141.3 72.5 142 73.5 142.2 74.5 142 75.5 141.4 76.5 139.9 76.8 138.4 76.6 137.4 76 136.4 75 135.7 73.5 135.4 72.5 135.6ZM88 163.3 85.5 164.3 83.9 165.3 82.6 166.8 81.9 168.8 81.9 170.3 82.6 171.8 84.5 173.3 85.5 173.9 86.5 174.1 88 173.9 89 172.8 90.3 169.3 91.5 166.8 91.8 165.8 91.7 164.8 91 163.7 89.5 163.2 88 163.3ZM92 147.7 91.3 148.3 91.2 149.8 91.5 150.5 92 151.1 93 151.4 93.5 151.1 94 150.6 94.1 149.3 93.5 148.3 93 147.9 92 147.7ZM96.5 158.7 95.6 159.3 95.4 160.3 95.9 161.3 96.5 161.8 97.5 162.3 99 162.5 100 162.3 100.6 161.8 100.9 161.3 100.9 160.3 100.4 159.3 99 158.7 97.5 158.6 96.5 158.7ZM103 53.3 102 54.1 101.1 55.4 100.8 56.4 101 56.9 101.5 57 102.5 56.6 105.3 54.9 105.5 54.4 105.4 53.9 105 53.4 104 53.1 103 53.3ZM110.5 161.6 110.1 162.3 110.3 163.3 111 163.8 111.5 163.8 112 163.5 112.4 162.8 112.2 161.8 111.5 161.4 111 161.4 110.5 161.6ZM112.5 101.6 112 102.3 111.9 102.9 112.1 103.4 112.5 103.6 113 103.1 113.1 102.4 113 101.8 112.5 101.6ZM28 112.4 27 113.2 26.5 114 25.8 116.4 25.8 117.4 26 118.1 26.5 118.7 27 118.9 28 118.6 28.5 118.1 29.2 116.9 29.7 114.9 29.7 113.4 29.5 112.7 29 112.2 28 112.4ZM31.5 124.7 28.5 126.2 26.5 127.7 23.7 131.4 22.8 133.4 22.8 134.9 23.8 137.4 24 138.4 23.7 141.4 23.9 142.4 25 144.1 27 146.2 27.5 146.1 27.6 145.8 27.5 142.9 27.9 140.4 28.5 138.9 30.1 136.9 30.6 135.9 30.1 132.4 30.2 130.9 31 129.1 32.8 126.9 33.3 125.9 33.2 125.4 32.9 124.9 32.5 124.7 31.5 124.7ZM74.5 145.2 67.6 149.8 65.5 152.3 65 152.6 64 152.5 60 151.3 59 151.5 57.5 152.2 55.6 153.8 53.5 157.1 51.5 158.8 50.8 160.3 51 161.2 53.1 161.8 56.5 162.4 58.5 162.2 60 161.7 61.4 160.8 62.3 159.8 62.9 158.8 64.5 155 65.5 153.7 66.5 153.8 67.5 154.3 68.5 155.4 70 157.8 70.9 158.3 72.5 158.6 74 158.6 75 158.3 76 157.7 77.5 156.3 79.9 153.3 80.5 152.3 80.7 151.3 80 149.8 77 145.8 76 145.1 75.5 145 74.5 145.2ZM105 175.7 104 176.1 103 176.8 102.1 177.8 101.9 178.3 101.9 179.3 102.8 181.3 103.8 184.3 105 185.7 106.5 186.3 110.6 185.3 111.1 184.8 110.8 184.3 108.2 182.3 107.1 180.8 106.7 179.3 106.7 177.3 106.5 176.6 106 176 105 175.7ZM24.5 182 23.7 182.8 23.4 183.8 23.6 184.8 24 185.3 25 185.7 26.5 185.8 27.5 185.7 28 185.3 28.2 184.3 27.4 182.8 26 181.9 25 181.8 24.5 182ZM29.5 166.3 28.5 166.7 27.5 167.4 26.8 168.3 26.4 169.3 26.5 170 27 170.7 28.5 171.4 30 171.4 31 171 31.9 170.3 32.3 169.3 32.3 168.3 31.5 166.9 30.5 166.3 29.5 166.3ZM31 155.8 30 156.3 29.9 156.8 30.5 157.3 31.5 157.3 32.1 156.8 32.2 156.3 32 155.8 31 155.8Z"/>
<path fill="#c5fa20" fill-rule="evenodd" d="M2.4 2 7.5 1.8 9.7 2 11 2.4 12.6 2 16 1.7 22 2 22.8 2.5 22.8 4 23.6 7 23.3 8.5 21.8 12 21.1 15 20.2 17.5 20 18.5 20.6 22.5 21.1 34 22.8 44 22.4 48 20.6 52.4 20.1 55.4 20.3 56.9 20.8 57.9 23 59.3 23.3 59.9 23.2 60.4 22 61.9 21.5 62.8 21.3 63.9 21.6 64.9 22.3 65.9 24.7 67.9 25 68.5 25.2 69.4 24.9 70.9 24.3 72.4 23.5 73.5 22 74.9 21.4 75.9 21.5 76.9 23.5 79.9 23.7 81.4 22.9 84.9 22.7 87.4 22.2 88.4 20.6 90.4 20.1 91.4 19.6 92.9 19.4 94.9 20 99.9 19.5 103.9 19.6 104.9 20 105.9 21.5 107.7 22.5 109.4 23.2 111.4 23.5 113.4 23.2 114.9 22.5 116.4 21.5 117.5 20 118.5 19 119.4 17.7 121.4 17.2 122.9 17.6 123.9 19.3 125.9 20 127.4 20 129.4 18.9 133.4 18.7 134.9 19.9 138.9 20.3 142.9 22.1 146.3 22.6 147.8 22.6 149.3 22.4 152.8 22.6 154.8 23 155.8 24.2 157.3 27.9 160.8 28.3 161.8 28 162.8 27.3 163.8 22.7 168.3 21.9 169.3 21.5 170.2 21.4 171.8 22.1 173.8 22.2 174.8 21 178.3 20.5 182.8 19.7 186.8 19.7 188.8 20.4 191.3 19.4 192.3 17 192.6 11 192.4 6.5 192.5 4.3 192.3 2.4 191.3 2.1 188.8 2.2 183.3 2 173.8 2.5 170.7 4 169.4 5.5 168.5 6.5 168.4 8.5 168.8 9.5 168.6 10.2 167.8 10.5 166.3 10.2 165.3 9.5 164.7 8.5 164.6 5.5 165.2 4.5 165.1 3.5 164.6 2.5 164 2.3 161.8 2.2 157.3 2.4 142.9 2.2 137.9 2.5 134.6 3 131.9 2.2 123.9 2 118.4 2.2 111.4 3 106.9 2.5 104.8 2.1 101.4 2.4 94.9 2.1 88.4 2.7 83.4 2 80.3 2 77.9 2 77 2.5 75.4 3.4 74.4 3.9 73.4 4.4 70.9 4.2 68.9 2.8 63.4 2.1 56.9 2 49.9 2.5 46 2 42.4 1.7 36.5 2.1 19 1.8 8.5 2 2.5 2.4 2ZM11 65.9 10.5 66.9 10.1 68.9 10.5 70.9 11 71.6 11.5 71.5 12 70.6 12.4 68.4 12 66.4 11.5 65.7 11 65.9ZM11.5 115.9 11.3 116.4 11.4 117.4 12 117.4 12 116.4 11.5 115.9ZM43.5 2 50.5 1.9 51.5 2 52.4 2.5 51.4 4.5 51.1 7.5 50.8 8.5 50 8.9 49 8.5 48 7.4 46.8 5.5 45.9 4.5 44.5 3.6 42 2.5 43.5 2ZM59.2 2 62 1.8 64 1.8 66.1 2 67.3 2.5 67 3.6 66 4.6 64.5 5.2 62.5 5.3 61 5.1 59.5 4.2 58.4 2.5 59.2 2ZM127.7 2 131 1.7 133.5 1.7 136.1 2 136.9 2.5 136.4 4 136.5 6 137 7.9 138 9.9 138.4 12 138.5 16.2 138.2 22.5 137.9 24.5 137.5 25.5 136.3 27 133 30.2 132 30.8 131.5 30.7 130.5 29.6 129.3 27.5 128.8 25.5 128.8 24.5 129.2 23.5 131 21.5 131.8 20 131.9 18.5 131 16.5 130.5 15.9 129.5 15.3 126.5 14.7 125 14.9 121 16.1 120.1 16 119.2 15 118 12 118 11.5 118.8 11 121 10.6 124 10.7 125 10.5 125.4 10 125.6 9 125.5 5.5 125.6 4.5 126.4 2.5 127.7 2ZM73 2.5 76 2.1 78.6 2.5 78.5 3.5 78.7 5 80.2 9.5 80.6 11 80.6 12 81 12.2 83 12.7 84.5 13.4 87.7 16 90.5 17.7 91.2 18.5 91.9 19.5 92.3 20.5 92.3 21.5 91.7 24.5 92 25.3 92.5 25.7 93 25.8 94 25.3 95.8 23 97 21.9 98.5 21 99.5 20.8 104.5 20.3 106 20.4 108.6 21.5 111.3 23.5 112.1 24.5 112.4 25.5 112 26.1 110.5 26.7 109 26.8 107.5 26.7 103 25.3 102 25.3 101.5 25.5 100.5 26.5 100 27.5 99.9 28.5 100.5 29.8 101.5 30.6 104 31.6 105 31.8 108.5 30.8 112.5 30.8 113.8 30.5 114.5 26.8 117 24.3 119 20.6 119.5 20.4 120 20.7 121.4 23.5 123.5 26.3 124 28 124 29.6 123.6 30.5 123 30.6 120.5 29.3 119.5 29.1 118.5 29.1 116.5 29.8 115 30.5 114.5 30.9 114.4 31.5 114.9 33 117.1 36.5 117.4 37.5 117.2 38.5 116.8 39 114.5 40.3 112 40.9 110.5 40.5 108.5 39.1 105.5 36 104.5 35.6 103 36.2 100.8 38 96.5 42.7 95.5 43.5 94.5 43.7 91.5 43 90 42.9 89 43.1 88 43.6 87.3 44.5 87.1 46 87.5 47.3 88.2 48.5 89 48.9 89.5 49 93 48.6 94.5 48.9 98 50.9 98.5 51.4 98.6 52.4 98.3 53.4 97.5 54.7 96.5 55.6 95 56.2 93.5 56.3 91.5 55.9 89.1 54.9 88.4 54.4 87.5 53.1 87 52.9 86.5 53.4 87.4 54.9 87.2 55.9 86 57.1 85 57.6 84 57.7 82.5 57.5 81.5 57.2 80.3 56.4 78 54.5 77.5 54.4 76.9 54.4 76.4 54.9 76.2 55.9 76.8 58.4 77 61.9 77.9 64.9 78 65.9 77.8 66.9 77 68 76.5 68.1 76 68 74.4 65.4 73.5 64.6 68.5 62.7 62.5 61.7 61.5 61.7 60.5 62.2 60 62.8 59.8 63.4 59.7 64.9 60 67.4 60.9 71.4 60.9 73.4 60.2 74.9 59 76.5 57.5 77.9 56.5 78.2 55.5 77.4 53.5 73.9 52 72.4 51 71.9 48 72.1 46 71.8 45.2 71.4 44.8 70.9 44.7 70.4 45.2 68.9 46 68.2 46.5 68.1 47.5 68.3 50 69.3 51 69.4 51.5 69.2 52.5 68 54.3 64.4 54.6 63.4 54.5 62.4 54 62.1 53 61.8 51 62 49.5 62.6 47 64.3 46 64.7 45.5 64.7 44.5 64.2 41.5 61.7 40.5 61.5 39.5 61.9 37 63.7 36 64.1 35 64.1 34 63.7 33.5 63.3 32 61.4 31 59.4 31 58.4 31.8 57.4 33 56.7 35 55.9 37 55.4 39.5 55.4 42.5 56.2 44 56.4 50.5 55.8 52 56 53.5 56.6 54.7 57.4 56.5 59.6 57 59.9 58 60 59.5 59.1 65.3 53.9 65.8 52.9 65.6 50.9 66 50.2 66.5 50.3 67.5 50.9 68.5 51 69.5 50.5 70.5 49.6 71.4 48 71.3 46.5 69 42.3 68.5 41.9 68 41.7 67 41.9 66 42.4 63 45.2 58 47.9 57 48 56.5 47.8 55.5 47 54.6 46 54 45 53.9 44 55.3 39 55.8 38 57 37.2 60 36.4 61.1 36 61.7 35.5 62.2 34.5 62.3 33 61.8 31.5 61 30 59.5 27.9 58.6 27 57 26 53 24.6 52.1 24 49.9 20 49.5 18.5 49.6 17.5 50.2 16.5 53 12.7 54 11.9 55.5 11.5 59.5 12.3 63 12.2 64 12.4 65 12.9 65.4 13.5 65.4 14 64.7 15.5 62.5 18.9 61.7 21 61.5 23 61.9 24 62.5 24.6 64 25.1 68.5 25.9 69 25.8 70 24.5 71.1 23.5 73 22.5 75 22.2 78.5 22.2 80 21.5 80.9 20.5 81.1 19.5 81 18.5 80.1 16.5 79.8 15.5 80.5 12.5 80 12.1 74.5 11.4 72 10.7 70.7 10 69.8 8.5 69.3 6.5 69.4 5 70.5 4 73 2.5ZM91 30.9 89.1 32 87.9 33 87.3 34 87.4 34.5 88.2 35.5 89.5 36 91.5 36.3 93.1 36 94 35.5 94.7 34.5 94.9 33 94.6 32 94 31.2 93 30.6 92 30.5 91 30.9ZM71 28.4 70.4 29 69.9 31.5 69.9 33.5 70.5 34.6 71.5 35.5 72.5 35.7 74 35.6 75.7 35 76.2 34.5 76.4 33.5 76.2 32 75.5 30.5 74.5 29.5 73.5 28.9 72 28.5 71 28.4ZM79 41.8 78.5 42.2 77.7 43.5 77.2 45 77.1 46 77.2 47 77.7 48 78.5 48.8 79 49 80 48.8 81 47.9 81.6 47 82 45.5 81.7 44 81 42.9 80 41.9 79.5 41.7 79 41.8ZM102.8 2.5 104.5 2.3 106.3 2.5 106.7 3.5 106.9 4.5 106.6 5.5 106 6 101.7 7 99.5 7.3 98 7.1 97.1 6.5 97 5.9 97.5 5 98.5 4.5 101 3.8 102.8 2.5ZM40.8 12 41 11.5 41.5 11.6 43.1 13.5 45.5 15.5 46.5 17 46.6 18 46.4 19 45.5 20.8 44.7 21.5 44 21.6 42.5 21.6 41.5 21.4 40.6 21 41.5 19.1 41.8 17.5 41.6 15 40.8 12ZM42.5 40 44 39.9 45.5 40.3 46.8 41 47.9 42 48.2 43 48.2 44 47.7 45 46.7 46 44.5 46.8 38.5 47.2 37 47 36 46.5 35.2 46 34.3 45 34 44 33.9 43 34 42.5 34.5 41.7 35.5 41.3 39 41 42.5 40ZM117.9 47 119.5 47.1 123 48.7 126.5 49.6 127 50.3 127.4 51.4 127.8 53.9 127.3 55.4 126.4 56.4 124.5 57.5 122.5 57.9 120.5 57.6 119 56.4 116.2 52.4 115.5 50.9 115.3 49.9 115.4 48.9 115.9 48 117 47.2 117.9 47ZM131.9 58.9 132.5 58.9 133 59.4 134.3 63.4 134.5 65 134 65.9 133.5 66.1 129.5 66.5 129.3 65.9 129.3 64.4 129.8 61.9 131 59.7 131.9 58.9ZM117 63.4 118.5 63.4 119.5 63.9 123 67.4 123.4 68.4 123.3 70.9 123.8 72.4 124.5 73.5 126.4 74.9 126.8 75.4 127 75.9 126.2 78.9 126.1 81.9 125.8 82.9 125 83.7 123 84.1 122 84.5 121.4 85.4 121.5 86.4 122 87 122.5 87.2 124.5 87.7 125.5 87.3 127.8 85.9 129 85.8 130 86 130.5 86.4 132.3 88.9 133.4 89.9 137.5 92.1 137.8 93.4 137.3 98.9 137.3 99.4 138 100.7 138.5 102.8 138.6 103.9 138.5 108 137.6 113.9 137.8 116.9 137.7 118.9 138 120.2 138.3 122.9 138.8 131.4 138.8 133.9 138.5 135.8 138 136.4 135 136.9 133 137 131.5 136.7 129.8 135.9 129 134.9 128.8 133.9 128.7 130.9 128.5 130.2 128 129.7 127.5 129.6 126.5 130 124.5 131.3 123.1 132.9 122.4 134.4 122.3 135.4 122.7 137.4 122.6 137.9 121.2 139.9 121 140.9 121.1 141.9 121.5 143 122 143.6 123 143.9 126.5 143.2 130 142.8 131 143.1 131.5 143.9 131.5 144.4 131 144.8 129 145.3 126.5 146.7 125 147.2 123 147 121 146.2 118 145.7 116 144.8 114.7 143.9 113.2 142.4 111.6 140.4 111.2 139.9 111.2 139.4 112.2 138.4 115.5 136.9 116 136.4 116.2 135.4 116.2 133.9 116.4 132.9 118 130.1 120 125.8 121.5 123.9 124.9 121.4 125.5 120.4 125.9 117.9 128 118.4 128.9 118.9 129.1 119.4 129 119.9 127.6 121.9 127.4 122.9 128 124.9 128.5 125.8 129 126.3 129.5 126.3 130 126.1 133.5 122.1 136.8 119.9 137 119.4 136.5 119 134.5 119.1 133 118.6 132.3 117.9 132.1 117.4 132.6 113.9 132.8 108.9 132.4 105.4 133 104.4 134.8 102.4 135.3 100.9 135 99.9 134.1 98.9 132.5 97.6 128.5 95.8 125.5 93.7 125 93.6 124.7 93.9 124.5 94.9 126.2 101.9 127 103.3 128.5 104.9 128.9 105.9 128.7 106.9 126.3 113.4 125.5 117.4 125 117.4 122.5 116.5 121.2 115.4 121 114.4 121.9 111.9 121.9 110.9 121.6 109.9 121.1 109.4 120.5 109.1 119.5 109 116 109.7 115.2 109.4 114.9 108.9 115 107.9 116.2 105.4 116.6 103.9 116.7 99.4 117.2 96.9 118 95.3 120.8 91.9 121.3 90.9 121.4 89.9 121 89 120.5 88.6 116.5 88.2 115 87.6 114.2 86.9 113.7 85.9 112.5 80.9 112 79.6 111.7 79.4 111 79.4 109.5 80.4 108.6 81.4 108.1 82.4 108.2 83.9 109.3 86.9 109.2 87.9 108.6 88.9 108 89.3 107 89.7 102.5 89.7 101.5 89.4 100.5 88.6 98.4 85.4 97.7 83.4 97.7 80.9 97.4 79.9 92 76.1 91 75.7 90.5 75.9 87.8 79.9 87.4 80.9 87.4 81.9 89.8 88.9 91.6 91.9 91.7 92.4 91.5 92.7 90.5 93.1 89.5 93.1 87.5 91.8 86.5 91.6 81.5 92 81 92.3 80.5 93 80 94.1 79.7 95.4 79.9 96.9 81 99.9 81 100.9 80.5 101.9 79.2 102.9 78 103.4 70.5 104.8 69 104.6 68.1 103.9 67.6 102.9 67.5 101.4 67.7 99.9 68.2 98.9 69 98.2 71.5 96.7 72.5 95.4 72.5 94.9 72.3 93.9 70.9 91.9 70.6 90.9 70.8 87.9 70.5 87.4 69.5 86.7 68 86.5 65.5 86.4 64.1 85.9 62.5 84.4 61.8 82.9 61.8 81.9 62.3 80.9 64.8 77.9 65.3 76.9 65.5 75.9 65.2 72.9 65.4 71.4 66.4 69.4 67.5 68.5 68 68.3 69 68.4 71 69.7 72.3 70.9 73.6 73.4 74.5 74.2 77 74.7 78.5 74.7 80 74.1 82.5 72.2 84 71.4 86 70.9 89 71.3 89.5 71.1 90.7 69.9 92.4 68.9 95 67.7 96.5 67.3 104 66.8 106 67.4 109 68.9 110 68.8 115 64.5 117 63.4ZM113 75.3 112.7 75.9 112.8 76.9 113 77.2 113.5 77.2 114.5 76.4 114.6 75.9 114 75.2 113.5 75.1 113 75.3ZM131 71.9 132 71.7 133 72 135.3 74.4 136.5 75.1 137.5 75.5 138 75.9 138.2 77.4 138 79.4 135.5 82.6 135 83 134 83.4 133.3 83.4 132.7 82.9 132.5 82.2 132.3 78.9 132 77.4 131.5 76.4 130 74.4 129.9 73.9 130.2 72.9 131 71.9ZM35 75.4 35.5 75.2 36.2 75.4 36.5 75.9 36.3 76.4 35.5 76.8 35 76.8 34.6 76.4 34.6 75.9 35 75.4ZM33.4 90.9 34.5 90.5 35.5 90.6 37 91.4 38.5 92.6 39.5 93.1 40.5 93.2 43 92.7 44 92.8 45.5 93.2 48.5 94.7 49.5 94.8 51.5 94.6 52.5 95 54 97.3 56.1 102.4 59.4 105.9 59.6 106.9 58.9 108.4 57.5 110 56.5 110.7 55 110.9 52.5 110.4 51.5 110.3 48.5 112.6 45 113.5 44.5 114 44 114.9 43.5 117.9 43 118.5 42.5 118.7 41.5 118.4 39.5 117.3 36.2 114.9 34.8 113.4 34.4 112.4 34.3 111.4 34.5 110.7 35 110 36 109.4 38 109.1 39.5 109.3 42.5 110.2 44 110.1 47 108.6 50 107.6 50.5 106.4 50.3 104.9 49.5 103.2 48.5 102.3 43 101.7 41.5 101.2 40.5 100.6 39.5 99.4 37.8 96.9 37 96.4 34.5 95.3 33.5 94.4 33 93.4 32.8 92.4 33 91.5 33.4 90.9ZM95.4 92.9 97.5 92.6 99 92.6 100 92.9 103 94.3 107.5 94.9 108.8 95.4 109.2 95.9 109.3 96.9 108.6 99.4 107.9 100.9 107.5 101.4 106.5 102 103 102.7 101 102.7 99.5 102.5 97.5 101.6 96 100.2 95 98.9 94 96.4 93.8 94.9 93.8 93.9 94.2 93.4 95.4 92.9ZM96.7 115.4 97 115.1 97.5 115 98 115.3 98.2 115.9 98 116.5 97.5 116.9 97 116.8 96.5 115.9 96.7 115.4ZM115.9 115.4 116.5 115.4 117 115.9 117.1 116.4 116.6 118.4 116.3 120.9 115.8 121.9 113.5 124.9 112.9 126.4 112.9 128.4 113.6 131.9 113.5 132.9 112.9 133.9 111.5 134.9 110.5 135.4 109.5 135.4 108 134.5 107.1 133.4 106.7 132.4 106.1 130.4 105.1 125.9 103.5 123.4 103.1 122.4 103 120.9 103.2 119.9 104.1 118.4 107.5 115.5 108 115.4 108.5 115.6 111 117.3 113 117.8 114.4 117.4 115.5 115.8 115.9 115.4ZM64.7 117.4 65.5 117.2 66.5 117.5 67 117.9 67.5 118.9 67.3 119.9 67 120.4 66 121.2 65 121.5 64.5 121.4 64 121 63.5 119.4 63.7 118.4 64 117.9 64.7 117.4ZM83.8 120.4 86 119.9 87.5 120.2 88.5 121 90 123.2 90.5 123.3 93 122.8 94.5 123 95.3 123.9 95.4 125.4 93.7 128.9 93.4 131.9 92.8 132.9 92.1 133.4 90.5 134.2 88.5 134.6 87 134.6 84 134.2 83.5 134.4 81.6 135.9 80.5 135.9 76.4 133.4 75.9 132.9 75.6 131.9 76 130.9 78.5 128.3 78.8 127.4 79.3 123.9 79.9 122.4 81 121.4 83.8 120.4ZM82 130.1 81.5 130.4 81.5 130.9 81.7 131.4 82.5 132.2 83 132.2 83.4 131.4 83.3 130.9 83 130.3 82 130.1ZM44.5 121.9 46 121.6 49.5 122.3 51.5 122.9 53 124 54.3 125.9 54.7 126.9 54.9 129.4 56 131.3 57 133.7 57.5 134.4 58.5 134.6 63 134.1 65.5 134.1 66 134.3 66.6 134.9 67 135.9 67 136.9 66.5 138.9 65.5 140.5 64.5 141.2 61.5 142.3 60.5 143 59.3 144.4 55.8 149.3 54.5 150.7 53 151.8 51.5 152.5 47 153.8 46.8 154.3 46.9 156.8 46.5 158.3 45.9 159.3 43.5 161.5 42.6 162.8 42.1 164.3 41.4 168.8 41 169.9 40.5 170.3 39.5 169.9 38.5 168.7 37.9 167.3 37.5 165.8 37.1 158.8 37.3 155.8 37.1 152.3 37.3 150.8 38 149.9 39 149.5 40.5 149.5 43.5 150.3 44.5 150 47.9 144.9 48.3 143.9 48.3 143.4 48.1 142.9 47.5 142.5 45.5 142 43 142 40.5 142.5 38.5 143.4 37.6 144.4 36.3 146.3 35.5 146.8 35 146.9 33.5 146.4 32.3 145.4 31.3 143.9 31 142.4 31.5 140.8 33 139.5 34.7 138.9 38 138.5 39 138 39.5 137.5 39.8 136.4 38.3 129.4 38.3 127.4 38.9 126.4 39.5 125.7 42 124 44.5 121.9ZM53 138.3 52.5 138.6 52 139.1 51.5 140.9 51.6 141.4 52 141.9 52.5 142.2 53.5 142.3 54.4 141.9 54.8 141.4 55.1 140.9 55.2 139.9 55 139.3 54.5 138.6 54 138.3 53 138.3ZM97.4 134.4 97.5 134.1 98 134.6 99 137.5 99.3 139.4 99.2 142.4 99.9 143.4 103.1 145.4 108 147.7 109.4 148.8 110.1 149.8 110.4 151.3 109.8 156.3 109 157.3 108 158 107 158.3 106 158.1 103.5 155.8 100.8 153.8 100.5 153.3 100.9 150.3 100.8 148.8 100 147.5 98 145.3 97.6 144.4 97.2 142.4 96.3 140.4 96.4 138.9 97.4 134.4ZM81.3 140.9 82.5 140.4 85 140.5 86.5 141.1 87.3 141.9 87.7 143.4 87.6 146.3 87 147.9 86 148.9 84.5 149.3 83 149 81.5 148 80.5 146.8 79.9 145.4 79.8 143.4 80.4 141.9 81.3 140.9ZM85.1 154.3 86 154.1 87 154.1 88 154.7 88.5 155.3 89 156.6 89.2 157.8 89 158.7 88.5 159.3 87.5 159.8 86.5 159.9 84 159.7 83.5 159.8 83 160.3 81.9 162.8 79.5 167.3 78.5 168.4 77.5 169.1 76.5 169.3 75 169.2 72.3 168.3 71 167.6 70.2 166.3 70 164.8 70.3 163.3 71 162.2 72 161.6 75.5 161.5 77.5 160.8 82 157.5 83.7 155.3 85.1 154.3ZM117.4 157.8 118.5 157.8 122 159.5 124.5 159.3 125.2 159.8 125.3 160.3 125 160.8 123.5 161.1 122.5 161.5 120 164.5 119 165.1 118 165.2 117.2 164.8 116.9 164.3 116.3 160.3 116.5 158.6 117.4 157.8ZM137.4 158.3 138 158.4 138.3 161.3 138 164.6 137.5 164.8 136.1 162.8 135.9 161.8 136 160.8 136.3 159.8 137.4 158.3ZM126.7 165.8 128 165.9 130 166.7 131.5 167.7 133.5 169.6 134 169.8 135 169.4 137.5 166.8 138 166.8 138.5 168.6 138.7 173.3 138.5 177.7 138 178.6 135 177.3 131 177.5 128.5 177.2 126 176.2 124 174.8 123.4 173.8 123 172.3 122.9 170.3 123.1 168.8 123.5 167.8 124.4 166.8 125.5 166.2 126.7 165.8ZM96.6 166.3 97.5 165.9 99 166 100 166.5 100.5 167.2 100.6 167.8 100.4 173.3 100 174.3 98.1 177.3 97.5 178.8 97.4 179.8 98 182.3 97.9 183.3 93.5 189.5 92 191.2 90.5 191.4 88.9 191.3 86 189.5 83.3 188.3 82.3 187.3 81.8 186.3 82 185.3 82.5 184.9 83.5 184.7 85.5 184.8 87 184.3 87.5 183.8 87.8 182.8 87.7 181.8 87.4 181.3 86.5 180.6 85.5 180.5 82.5 181.7 81.5 181.7 81 181.5 80 180.8 78.2 178.8 77.5 177.8 77.3 176.8 77.9 175.8 78.5 175.4 80.5 174.8 82.5 175.1 86 176.3 87.5 176.2 88.5 175.8 89.5 175 90.1 174.3 91.5 171.1 92.3 169.8 95 167.8 96.6 166.3ZM54.8 166.8 56 166.5 57.5 166.5 58.5 166.8 58.7 167.3 58.6 168.3 57.3 172.3 56.7 175.3 56.1 176.8 55.3 177.8 54 178.8 50.5 180.1 49 180.9 45 184 44 183.9 43.2 182.8 42.8 180.3 43.2 177.8 43.8 175.3 44.3 174.3 50.5 169.7 53.5 167.6 54.8 166.8ZM62.8 170.3 64 170.1 65 170.1 66.5 170.5 67.5 171 68.4 171.8 70.5 175.2 73.5 177.8 73.8 178.8 74 182.8 73.8 183.8 73 184.8 72 185.4 71.5 185.1 70.7 181.3 70.3 180.3 69.5 179.4 68.5 178.8 65.5 177.8 64.5 177.3 63.5 176.5 62.6 175.3 61.8 173.8 61.6 172.3 62 171 62.8 170.3ZM26.7 174.3 28.5 174.1 32.5 174.1 33.5 174.3 34.5 175.1 34.8 175.8 35.4 178.8 37 181.5 37.4 183.3 37.3 184.8 36.9 185.8 36.4 186.8 35.5 187.6 35 187.7 34.5 187.4 33.5 186.4 32.9 185.3 31.9 182.3 31.2 181.3 27.9 178.8 26.5 177.3 26 176.3 25.8 175.3 25.9 174.8 26.7 174.3ZM113.5 175.8 114.5 175.4 115.5 175.4 116.5 175.9 117.4 176.8 118 178.3 118.4 180.3 118.3 181.3 118 181.6 116.5 182.1 114.5 182 112.9 181.3 111.8 180.3 111.5 179.3 111.7 178.3 112.5 176.8 113.5 175.8ZM120.1 182.3 121 182 122.5 181.9 125.5 182.3 126.4 182.8 126.8 183.3 127.1 184.3 126.8 185.3 126 186.4 125 187 124 187.2 123 187 121.8 186.3 120.6 184.8 120 183.3 119.9 182.8 120.1 182.3ZM70.6 186.3 71.5 186 73.2 188.3 73.8 189.3 74.2 190.8 74.3 191.3 73.9 191.8 73.1 192.3 70 192.6 65.9 192.3 65 191.8 64.6 191.3 66.2 189.3 68.5 187.4 70.6 186.3ZM137.1 187.8 138 187.8 138.3 188.8 138.4 191.3 138.3 191.8 138 192 134.5 192.1 132.7 191.8 131.8 191.3 132.6 189.8 133.5 189 134.9 188.3 137.1 187.8ZM109.3 188.8 111 188.4 112.8 188.8 113.9 189.8 114.4 191.3 114 191.8 113.2 192.3 111 192.4 109 192.3 108 191.8 107.5 191.3 108.2 189.8 109.3 188.8ZM34.6 189.8 35.5 189.5 36 189.5 39.6 191.3 38.8 191.8 36.7 192.3 35 192.3 34 192.1 33.2 191.8 32.7 191.3 34.6 189.8ZM123.1 191.3 124 191 125.3 191.3 124 191.5 123.1 191.3Z"/>
<path fill="#fffa14" fill-rule="evenodd" d="M16.2 2 18 2 20 2.5 20.5 6 20.3 8 18.8 11.5 18 15 16.9 17.5 16.7 18.5 17 19.5 18.2 21.5 18.6 23 18.6 24.5 18.1 27 18 28.5 18.7 35 19.6 41 19.7 43.5 19.3 45.5 17.6 49.9 17 53 16.5 54.6 15.5 56.2 15 56.6 14.5 56.7 14 56.4 13.5 55.4 13.1 52.9 13.2 51.4 14.1 48.5 14.3 47 13.3 41.5 14 37 13.1 34 12.9 33 13.3 31.5 14.7 29 14.9 28 13.7 24 13.6 22.5 13.7 19.5 13.2 18 12 16.1 11 15.3 10.5 15.4 10 15.8 9 17 8.1 18.5 7.8 19.5 7.8 21.5 8.9 27 10.3 32 10.6 33.5 9.9 37.5 9.3 42 8.5 44.3 7.5 46.4 7 47 7.1 47.5 7.5 48.1 7.7 48.9 7.5 50.5 7 50.9 6.5 50.7 6.3 49.9 6.5 48.5 7 47.5 6.8 46.5 2.5 39.6 2.1 37 2 35 2.5 31.7 3.5 30.7 4 29.5 4.1 24.5 5.4 19.5 5.3 18 4.6 15 4.5 11.5 4.2 8.5 5.4 4.5 5.4 2.5 6.5 2.4 7.8 2.5 9.5 6.5 10.5 10.5 11 11.1 11.5 11.1 12 10.6 12.5 9.5 13 5.5 14.1 2.5 16.2 2ZM129.8 2.5 132 2 133 2.1 134.2 2.5 133.6 4 133.1 7 132.5 7.9 131.5 8.5 130.5 8.5 130 8.2 129.5 7.5 129.4 6.5 129.9 4 129.8 2.5ZM55.4 15.5 56.5 15.3 58 15.5 59 16.1 59.6 17 59.6 18.5 59 20.3 58.5 21.1 57.5 21.8 56.5 21.8 55.5 21.3 54.5 20.4 53.6 19 53.5 18 53.8 17 54.5 16 55.4 15.5ZM134.9 21.5 135.5 21.3 136 22 135.9 23 135.5 24 134.8 25 134 25.7 133.5 25.8 133 25.7 132.8 25 133 24.3 134 22.6 134.9 21.5ZM79.6 28 80.5 27.7 81 27.9 81.2 28.5 81 29 80.5 29.3 80 29.2 79.5 28.7 79.6 28ZM6.1 54.9 6.5 54.6 7 54.5 7.5 54.6 8.5 55.4 9.6 57.4 10 59.4 9.8 61.4 9 64.1 8 65.7 7.5 66.1 7 66.3 6.3 65.9 5.6 64.9 5.2 63.4 5 61.9 4.9 58.9 5 57.4 5.5 55.8 6.1 54.9ZM46.2 59.4 47.5 59.2 48 59.4 48 59.9 47.5 60.5 46.5 60.9 46 60.8 45.7 60.4 45.8 59.9 46.2 59.4ZM95.9 71.4 96.5 71.1 97.5 71 101 71.7 103.5 71 104.5 71.1 105.5 71.8 106 72.5 106.5 73.9 106.5 74.9 106 75.4 105.5 75.3 103.5 74.1 102 73.7 99 75.5 98 75.6 97 75.4 96 74.7 95.3 73.4 95.3 72.4 95.9 71.4ZM6.9 76.9 7.1 76.9 7.5 77.4 7.8 80.4 9.9 83.9 10.2 84.9 10.2 85.9 8.9 92.9 7.5 95 6.5 95.8 6 95.8 5.5 95.4 4.9 93.9 4.1 88.9 4.4 87.4 5.8 83.9 6.6 81.4 6.6 80.4 6.1 78.4 6.4 77.4 6.9 76.9ZM75.6 78.9 77 78.7 78.5 78.9 79.8 79.4 80.9 80.4 81.3 81.9 81.2 83.4 80.7 84.4 79.5 85.2 78 85.6 76 85.6 71.5 84 67.5 83.6 67 83.3 66.5 82.8 66.4 82.4 66.5 81.7 67.5 80.7 69 80.4 71 80.8 72 80.8 75.6 78.9ZM14.1 82.4 15 82.2 15.5 82.6 16.5 85.1 17 86.9 16.9 88.4 15.8 90.9 16.5 94.3 16.9 98.9 16.6 100.4 16 101.1 15.5 101 15 100.4 14 95.7 14 93.7 14.8 90.9 13.1 87.4 12.6 85.9 12.6 84.9 12.9 83.9 13.5 82.9 14.1 82.4ZM84.1 84.9 84.5 84.8 85 85.2 85 85.9 84.4 85.9 84 85.4 84.1 84.9ZM130.3 92.4 130.5 92 131 92 131.5 92.2 132.3 92.9 132.5 93.6 132 93.8 131 93.5 130.4 92.9 130.3 92.4ZM98.5 96.9 100.5 96.8 103.5 97.4 104.4 97.9 104.7 98.4 104.7 98.9 104.3 99.4 103 99.8 101.5 99.7 100.2 99.4 98.5 98.4 98.1 97.4 98.5 96.9ZM120.4 98.4 121 98.2 121.5 98.3 122.2 98.9 122.5 99.6 122.5 100.4 122 101.2 121 101.4 120 100.8 119.7 99.9 119.8 99.4 120.4 98.4ZM74 98.9 75.5 98.4 76.5 98.9 77 99.9 76.7 100.9 76 101.4 75 101.6 74 101.6 73 101.3 72.6 100.9 72.6 100.4 73 99.7 74 98.9ZM5.5 99.9 6 99.5 6.5 99.5 7 99.8 8 100.8 9 102.9 9.5 105.4 9.7 108.9 8.3 113.4 8 115.9 8.1 117.4 8.7 119.9 8.7 122.4 8.9 123.4 9.5 124.9 11.5 128.4 11.4 129.4 10.5 131.5 9.9 133.9 9.8 135.9 10.1 137.4 11 139.6 12 140.7 12.5 140.8 13 140.5 15 139.2 16 139.2 16.5 139.6 17 140.4 18 143.4 19.5 146.3 20 147.8 19.9 149.8 19.1 151.8 18 153.1 16.5 153.7 15 153.5 14 152.8 13.7 152.3 13.4 151.3 13.5 148.3 13.4 146.8 12.8 144.9 12 143.7 11.5 143.6 11 143.8 7.5 146.8 7 147 6.5 146.6 6 145.7 4.5 140.9 4.3 137.9 4.9 134.4 5.1 132.4 4.5 126.9 4.9 122.9 4.4 119.4 5 113.1 5.8 108.9 5.6 107.4 4.7 103.9 4.6 102.4 4.9 100.9 5.5 99.9ZM13.6 109.4 14.5 109 16.5 109 18 109.2 19.5 110 20.4 110.9 20.9 111.9 21 112.9 20.5 114.2 19.5 115.1 18 115.7 17 115.8 16 115.4 14.6 113.9 13.5 111.9 13.1 110.4 13.6 109.4ZM13.4 127.9 14.5 127.7 15.5 128.3 15.7 129.4 15.5 129.9 15 130.1 14.5 130.1 13.3 129.4 12.9 128.9 12.9 128.4 13.4 127.9ZM134.4 128.9 135 128.6 136 128.5 137.5 128.7 138 129.1 138.5 130.8 138.6 132.4 138.5 133.8 138 134.9 136.5 135.1 134.5 135 133.5 134.7 132.5 133.9 132.2 132.9 132.5 131.4 133.5 129.7 134.4 128.9ZM15.5 160.3 16.5 160.3 17.5 161.1 18 162.3 18.6 164.8 18.6 165.8 18.1 168.3 17.7 172.3 17.5 173.1 17 173.8 16.5 173.8 16 173.5 15 172.5 14.3 171.3 14.1 170.3 14.1 169.3 15 165.8 14.5 161.8 14.9 160.8 15.5 160.3ZM126.2 169.8 127 169.5 128 169.4 129 169.8 130 170.5 131 171.8 131.4 172.8 131.5 173.8 131 174.8 130 175.3 129 175.3 127.5 174.9 126.5 174.2 125.8 173.3 125.4 171.8 125.5 170.8 126.2 169.8ZM93.7 172.3 94.5 172 95.5 172.3 96.1 173.3 96.1 174.3 95.5 176.1 93 180.3 92.5 180.8 92 180.7 91 179.8 90.5 178.3 93 173.1 93.7 172.3ZM5.4 173.3 6 173.1 6.5 173.3 6.9 173.8 7 174.8 6.5 175.8 6 175.9 5.5 175.5 5.1 174.8 5.1 173.8 5.4 173.3ZM16.4 177.3 17 177.1 17.5 177.5 18.2 180.3 18.2 182.3 17.4 185.3 17.2 186.8 17.4 188.3 18.4 191.3 18.1 191.8 17.1 192.3 14.5 192.3 11 191.3 7 192 5.9 191.8 5 191.3 4.9 188.8 5.3 186.3 6 184.5 6.5 184 7 184 8 184.7 8.7 185.8 9.7 188.3 10.5 191 11 190.4 12.9 185.3 14.2 180.3 15 178.9 16.4 177.3ZM68.4 190.8 69 190.5 70 190.3 71 190.6 71.8 191.3 71 191.9 70 192.1 69 192 68.3 191.8 67.7 191.3 68.4 190.8Z"/>
<path fill="#ffa50a" fill-rule="evenodd" d="M6.5 118.4 7 118.5 7.4 118.9 7.8 119.9 7.5 121 7 121.5 6.5 121.6 6 121.4 5.5 120.9 5.3 119.9 5.6 118.9 6 118.5 6.5 118.4Z"/>
<path fill="#fa3c0f" fill-rule="evenodd" d="M6.2 119.4 6.5 119.2 6.8 119.4 7.1 119.9 7 120.5 6.5 120.8 6 120.4 5.9 119.9 6.2 119.4Z"/></g><rect x="0.45" y="0.45" width="139.60" height="193.40" fill="none" stroke="#1446f5" stroke-width="0.9" opacity="0.55"/></g>
<rect x="326.30" y="267.30" width="11.40" height="16.93" fill="#fa3c0f"/>
<rect x="326.30" y="283.93" width="11.40" height="16.93" fill="#ffa50a"/>
<rect x="326.30" y="300.56" width="11.40" height="16.93" fill="#ffff00"/>
<rect x="326.30" y="317.19" width="11.40" height="16.93" fill="#a8f616"/>
<rect x="326.30" y="333.82" width="11.40" height="16.93" fill="#46ee1e"/>
<rect x="326.30" y="350.45" width="11.40" height="16.93" fill="#0ff255"/>
<rect x="326.30" y="367.08" width="11.40" height="16.93" fill="#00f5a5"/>
<rect x="326.30" y="383.71" width="11.40" height="16.93" fill="#00ffff"/>
<rect x="326.30" y="400.34" width="11.40" height="16.93" fill="#00a0ff"/>
<rect x="326.30" y="416.97" width="11.40" height="16.93" fill="#0a3cff"/>
<rect x="337.70" y="266.90" width="2" height="0.7" fill="#999"/>
<rect x="337.70" y="283.53" width="2" height="0.7" fill="#999"/>
<rect x="337.70" y="300.16" width="2" height="0.7" fill="#999"/>
<rect x="337.70" y="316.79" width="2" height="0.7" fill="#999"/>
<rect x="337.70" y="333.42" width="2" height="0.7" fill="#999"/>
<rect x="337.70" y="350.05" width="2" height="0.7" fill="#999"/>
<rect x="337.70" y="366.68" width="2" height="0.7" fill="#999"/>
<rect x="337.70" y="383.31" width="2" height="0.7" fill="#999"/>
<rect x="337.70" y="399.94" width="2" height="0.7" fill="#999"/>
<rect x="337.70" y="416.57" width="2" height="0.7" fill="#999"/>
<rect x="337.70" y="433.20" width="2" height="0.7" fill="#999"/>
<text class="t" x="326.70" y="251.70" font-size="9.70">Velocity</text>
<text class="t" x="326.70" y="260.30" font-size="8.97">catalyst upstream</text>
<text class="t" x="344.30" y="271.90" font-size="9.75">8.502<tspan x="372.77" font-size="9.46">×</tspan><tspan x="380.38" font-size="9.65">10</tspan><tspan x="390.42" dy="-3.3" font-size="6">0</tspan></text>
<text class="t" x="344.30" y="288.53" font-size="9.75">7.652<tspan x="372.77" font-size="9.46">×</tspan><tspan x="380.38" font-size="9.65">10</tspan><tspan x="390.42" dy="-3.3" font-size="6">0</tspan></text>
<text class="t" x="344.30" y="305.16" font-size="9.75">6.802<tspan x="372.77" font-size="9.46">×</tspan><tspan x="380.38" font-size="9.65">10</tspan><tspan x="390.42" dy="-3.3" font-size="6">0</tspan></text>
<text class="t" x="344.30" y="321.79" font-size="9.75">5.951<tspan x="372.77" font-size="9.46">×</tspan><tspan x="380.38" font-size="9.65">10</tspan><tspan x="390.42" dy="-3.3" font-size="6">0</tspan></text>
<text class="t" x="344.30" y="338.42" font-size="9.75">5.101<tspan x="372.77" font-size="9.46">×</tspan><tspan x="380.38" font-size="9.65">10</tspan><tspan x="390.42" dy="-3.3" font-size="6">0</tspan></text>
<text class="t" x="344.30" y="355.05" font-size="9.75">4.251<tspan x="372.77" font-size="9.46">×</tspan><tspan x="380.38" font-size="9.65">10</tspan><tspan x="390.42" dy="-3.3" font-size="6">0</tspan></text>
<text class="t" x="344.30" y="371.68" font-size="9.75">3.401<tspan x="372.77" font-size="9.46">×</tspan><tspan x="380.38" font-size="9.65">10</tspan><tspan x="390.42" dy="-3.3" font-size="6">0</tspan></text>
<text class="t" x="344.30" y="388.31" font-size="9.75">2.551<tspan x="372.77" font-size="9.46">×</tspan><tspan x="380.38" font-size="9.65">10</tspan><tspan x="390.42" dy="-3.3" font-size="6">0</tspan></text>
<text class="t" x="344.30" y="404.94" font-size="9.75">1.700<tspan x="372.77" font-size="9.46">×</tspan><tspan x="380.38" font-size="9.65">10</tspan><tspan x="390.42" dy="-3.3" font-size="6">0</tspan></text>
<text class="t" x="344.30" y="421.57" font-size="9.75">8.502<tspan x="372.77" font-size="9.46">×</tspan><tspan x="380.38" font-size="9.65">10</tspan><tspan x="389.35" dy="-3.3" font-size="6"><tspan fill="#999" stroke="none">-</tspan><tspan dx="-0.6">1</tspan></tspan></text>
<text class="t" x="344.30" y="438.20" font-size="9.75">0.000<tspan x="372.77" font-size="9.46">×</tspan><tspan x="380.38" font-size="9.65">10</tspan><tspan x="390.42" dy="-3.3" font-size="6">0</tspan></text>
<text class="t" x="326.10" y="448.80" font-size="9.5">[m s^-1]</text>
<text class="c" x="433.00" y="467.70" text-anchor="middle">(<tspan font-weight="bold">d</tspan>)</text>

<g>
<line x1="246.2" y1="175.3" x2="266" y2="175.3" stroke="#e01414" stroke-width="1.7"/>
<polygon points="264.8,172.7 271.4,175.3 264.8,177.9" fill="#e01414"/>
<line x1="245.9" y1="175.3" x2="245.9" y2="196" stroke="#1414d2" stroke-width="1.7"/>
<polygon points="243.3,195.3 248.5,195.3 245.9,201.3" fill="#1414d2"/>
<circle cx="245.9" cy="175.4" r="2.5" fill="#0c6e18"/>
<circle cx="246.2" cy="175.1" r="1.2" fill="#14a028"/>
<circle cx="258.8" cy="189" r="2.4" fill="#19c3cd"/>
<circle cx="259" cy="188.8" r="1.2" fill="#3ce6f0"/>
<text x="246.4" y="173.6" font-size="6.8" fill="#78cd78" class="t2">Y</text>
<text x="277.6" y="174.7" font-size="6.8" fill="#f09696" class="t2">X</text>
<text x="246.2" y="207.2" font-size="8" fill="#9696eb" class="t2">Z</text>
</g>

</svg>
</body></html>
